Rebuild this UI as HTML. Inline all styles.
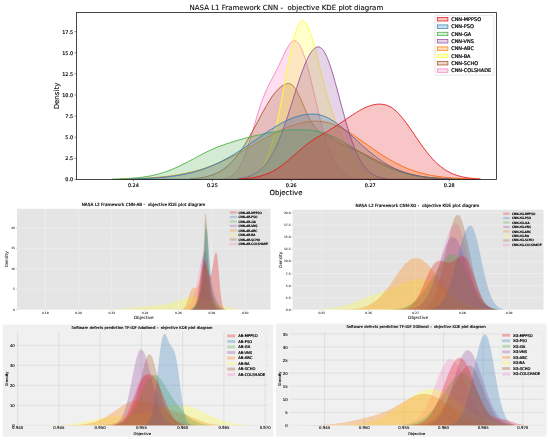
<!DOCTYPE html>
<html lang="en"><head><meta charset="utf-8"><title>KDE plot diagrams</title>
<style>html,body{margin:0;padding:0;background:#fff;}body{width:550px;height:441px;overflow:hidden;}svg{display:block;}</style>
</head><body>
<svg width="550" height="441" viewBox="0 0 550 441" font-family="'DejaVu Sans','Liberation Sans',sans-serif" text-rendering="geometricPrecision">
<clipPath id="c1"><rect x="76.4" y="12.6" width="420.0" height="166.8"/></clipPath>
<g clip-path="url(#c1)" stroke-linejoin="round">
<path d="M224.3,179.4 L224.3,178.6 225.1,178.4 225.9,178.2 226.7,178 227.4,177.8 228.2,177.5 229,177.2 229.8,176.9 230.6,176.5 231.4,176 232.1,175.5 232.9,174.9 233.7,174.3 234.5,173.6 235.3,172.8 236.1,171.9 236.8,171 237.6,169.9 238.4,168.8 239.2,167.6 240,166.2 240.8,164.8 241.5,163.2 242.3,161.6 243.1,159.8 243.9,157.9 244.7,156 245.5,153.9 246.2,151.7 247,149.5 247.8,147.1 248.6,144.7 249.4,142.2 250.2,139.7 250.9,137.1 251.7,134.4 252.5,131.7 253.3,129 254.1,126.3 254.9,123.6 255.6,121 256.4,118.3 257.2,115.7 258,113.1 258.8,110.6 259.6,108.1 260.3,105.8 261.1,103.5 261.9,101.2 262.7,99.1 263.5,97 264.3,95.1 265,93.2 265.8,91.3 266.6,89.6 267.4,87.9 268.2,86.3 269,84.7 269.7,83.1 270.5,81.6 271.3,80.1 272.1,78.7 272.9,77.2 273.7,75.7 274.4,74.3 275.2,72.8 276,71.2 276.8,69.7 277.6,68.1 278.4,66.5 279.1,64.9 279.9,63.2 280.7,61.5 281.5,59.8 282.3,58.1 283.1,56.5 283.8,54.8 284.6,53.1 285.4,51.5 286.2,50 287,48.5 287.8,47.1 288.5,45.8 289.3,44.6 290.1,43.5 290.9,42.6 291.7,41.9 292.5,41.3 293.2,40.9 294,40.7 294.8,40.7 295.6,40.9 296.4,41.3 297.2,42 297.9,42.8 298.7,43.8 299.5,44.9 300.3,46.3 301.1,47.8 301.9,49.5 302.6,51.4 303.4,53.5 304.2,55.7 305,58.1 305.8,60.6 306.6,63.3 307.3,66.1 308.1,69 308.9,72 309.7,75.1 310.5,78.2 311.3,81.5 312,84.8 312.8,88.1 313.6,91.5 314.4,94.9 315.2,98.3 316,101.6 316.7,105 317.5,108.4 318.3,111.7 319.1,114.9 319.9,118.2 320.7,121.3 321.4,124.4 322.2,127.4 323,130.3 323.8,133.2 324.6,135.9 325.4,138.6 326.1,141.2 326.9,143.6 327.7,146 328.5,148.2 329.3,150.4 330.1,152.4 330.8,154.4 331.6,156.2 332.4,158 333.2,159.6 334,161.2 334.7,162.6 335.5,164 336.3,165.3 337.1,166.5 337.9,167.6 338.7,168.7 339.4,169.6 340.2,170.5 341,171.3 341.8,172.1 342.6,172.8 343.4,173.4 344.1,174 344.9,174.6 345.7,175.1 346.5,175.5 347.3,175.9 348.1,176.3 348.8,176.6 349.6,176.9 350.4,177.2 351.2,177.4 352,177.7 352.8,177.9 353.5,178.1 354.3,178.2 355.1,178.4 355.9,178.5 356.7,178.6 356.7,179.4Z" fill="#f781bf" fill-opacity="0.25" stroke="#f781bf" stroke-width="0.9"/>
<path d="M190.1,179.4 L190.1,178.8 191.6,178.7 193.1,178.6 194.7,178.5 196.2,178.3 197.7,178.2 199.2,178 200.8,177.8 202.3,177.5 203.8,177.2 205.4,176.9 206.9,176.6 208.4,176.2 209.9,175.7 211.5,175.2 213,174.7 214.5,174.1 216.1,173.4 217.6,172.7 219.1,171.9 220.7,171 222.2,170 223.7,169 225.2,167.9 226.8,166.7 228.3,165.3 229.8,163.9 231.4,162.4 232.9,160.8 234.4,159.1 235.9,157.2 237.5,155.3 239,153.3 240.5,151.1 242.1,148.9 243.6,146.5 245.1,144.1 246.6,141.6 248.2,139 249.7,136.3 251.2,133.6 252.8,130.8 254.3,128 255.8,125.2 257.4,122.3 258.9,119.4 260.4,116.6 261.9,113.7 263.5,110.9 265,108.2 266.5,105.5 268.1,103 269.6,100.5 271.1,98.1 272.6,95.9 274.2,93.8 275.7,91.9 277.2,90.2 278.8,88.7 280.3,87.3 281.8,86.2 283.3,85.2 284.9,84.5 286.4,83.9 287.9,83.6 289.5,83.6 291,84.1 292.5,85.2 294.1,87 295.6,89.2 297.1,91.8 298.6,94.8 300.2,98.1 301.7,101.5 303.2,105.1 304.8,108.6 306.3,112.1 307.8,115.4 309.3,118.5 310.9,121.3 312.4,123.9 313.9,126.1 315.5,128 317,129.6 318.5,130.9 320,132 321.6,132.9 323.1,133.7 324.6,134.4 326.2,135.1 327.7,135.9 329.2,136.8 330.8,137.8 332.3,139 333.8,140 335.3,140.9 336.9,141.8 338.4,142.5 339.9,143.3 341.5,143.9 343,144.6 344.5,145.2 346,145.8 347.6,146.4 349.1,147 350.6,147.7 352.2,148.3 353.7,149 355.2,149.7 356.7,150.4 358.3,151.1 359.8,151.8 361.3,152.5 362.9,153.3 364.4,154.1 365.9,154.9 367.5,155.6 369,156.4 370.5,157.2 372,158 373.6,158.8 375.1,159.6 376.6,160.4 378.2,161.2 379.7,162 381.2,162.8 382.7,163.5 384.3,164.3 385.8,165 387.3,165.7 388.9,166.4 390.4,167.1 391.9,167.7 393.4,168.4 395,169 396.5,169.6 398,170.2 399.6,170.7 401.1,171.3 402.6,171.8 404.2,172.3 405.7,172.7 407.2,173.2 408.7,173.6 410.3,174 411.8,174.4 413.3,174.7 414.9,175.1 416.4,175.4 417.9,175.7 419.4,176 421,176.3 422.5,176.5 424,176.7 425.6,177 427.1,177.2 428.6,177.4 430.1,177.5 431.7,177.7 433.2,177.8 434.7,178 436.3,178.1 437.8,178.2 439.3,178.3 440.9,178.4 442.4,178.5 443.9,178.6 445.4,178.7 447,178.8 448.5,178.8 448.5,179.4Z" fill="#a65628" fill-opacity="0.25" stroke="#a65628" stroke-width="0.9"/>
<path d="M246,179.4 L246,178.5 246.7,178.3 247.5,178.2 248.3,178 249.1,177.8 249.8,177.6 250.6,177.3 251.4,177 252.2,176.7 252.9,176.3 253.7,175.9 254.5,175.5 255.3,175 256.1,174.4 256.8,173.8 257.6,173.1 258.4,172.4 259.2,171.6 259.9,170.7 260.7,169.7 261.5,168.6 262.3,167.4 263,166.2 263.8,164.8 264.6,163.3 265.4,161.8 266.2,160.1 266.9,158.2 267.7,156.3 268.5,154.2 269.3,152 270,149.6 270.8,147.1 271.6,144.5 272.4,141.8 273.2,138.9 273.9,135.8 274.7,132.7 275.5,129.3 276.3,125.9 277,122.4 277.8,118.7 278.6,114.9 279.4,111.1 280.1,107.1 280.9,103.1 281.7,99 282.5,94.8 283.3,90.6 284,86.4 284.8,82.2 285.6,78 286.4,73.8 287.1,69.6 287.9,65.5 288.7,61.5 289.5,57.6 290.2,53.8 291,50.2 291.8,46.6 292.6,43.3 293.4,40.1 294.1,37.2 294.9,34.4 295.7,31.9 296.5,29.6 297.2,27.5 298,25.8 298.8,24.2 299.6,23 300.3,22 301.1,21.3 301.9,20.9 302.7,20.7 303.5,20.9 304.2,21.3 305,21.9 305.8,22.8 306.6,24 307.3,25.4 308.1,27 308.9,28.8 309.7,30.8 310.4,33 311.2,35.4 312,37.9 312.8,40.5 313.6,43.3 314.3,46.1 315.1,49.1 315.9,52.1 316.7,55.1 317.4,58.2 318.2,61.3 319,64.5 319.8,67.6 320.5,70.7 321.3,73.8 322.1,76.9 322.9,79.9 323.7,82.9 324.4,85.8 325.2,88.7 326,91.5 326.8,94.3 327.5,97 328.3,99.6 329.1,102.2 329.9,104.7 330.6,107.1 331.4,109.5 332.2,111.8 333,114.1 333.8,116.3 334.5,118.5 335.3,120.6 336.1,122.7 336.9,124.7 337.6,126.7 338.4,128.7 339.2,130.6 340,132.5 340.8,134.3 341.5,136.2 342.3,137.9 343.1,139.7 343.9,141.5 344.6,143.2 345.4,144.8 346.2,146.5 347,148.1 347.7,149.7 348.5,151.2 349.3,152.7 350.1,154.2 350.9,155.6 351.6,157 352.4,158.3 353.2,159.6 354,160.9 354.7,162.1 355.5,163.3 356.3,164.4 357.1,165.4 357.8,166.5 358.6,167.4 359.4,168.3 360.2,169.2 361,170 361.7,170.8 362.5,171.5 363.3,172.2 364.1,172.9 364.8,173.4 365.6,174 366.4,174.5 367.2,175 367.9,175.4 368.7,175.8 369.5,176.2 370.3,176.5 371.1,176.8 371.8,177.1 372.6,177.4 373.4,177.6 374.2,177.8 374.9,178 375.7,178.2 376.5,178.3 377.3,178.4 377.3,179.4Z" fill="#ffff33" fill-opacity="0.25" stroke="#ffff33" stroke-width="0.9"/>
<path d="M119.5,179.4 L119.5,179.1 121.6,179 123.7,179 125.8,178.9 127.9,178.9 130,178.8 132.1,178.7 134.2,178.7 136.3,178.6 138.4,178.5 140.6,178.4 142.7,178.3 144.8,178.2 146.9,178.1 149,178 151.1,177.8 153.2,177.7 155.3,177.5 157.4,177.3 159.5,177.1 161.6,176.9 163.8,176.7 165.9,176.5 168,176.2 170.1,176 172.2,175.7 174.3,175.4 176.4,175 178.5,174.7 180.6,174.3 182.7,173.9 184.8,173.5 186.9,173 189.1,172.6 191.2,172.1 193.3,171.6 195.4,171 197.5,170.4 199.6,169.8 201.7,169.2 203.8,168.5 205.9,167.8 208,167.1 210.1,166.3 212.2,165.5 214.4,164.7 216.5,163.9 218.6,163 220.7,162.1 222.8,161.1 224.9,160.2 227,159.2 229.1,158.2 231.2,157.1 233.3,156 235.4,154.9 237.5,153.8 239.7,152.7 241.8,151.6 243.9,150.4 246,149.2 248.1,148 250.2,146.8 252.3,145.6 254.4,144.4 256.5,143.2 258.6,142 260.7,140.8 262.9,139.6 265,138.4 267.1,137.2 269.2,136.1 271.3,135 273.4,133.9 275.5,132.8 277.6,131.7 279.7,130.7 281.8,129.7 283.9,128.8 286,127.9 288.2,127 290.3,126.2 292.4,125.5 294.5,124.8 296.6,124.1 298.7,123.6 300.8,123 302.9,122.6 305,122.2 307.1,121.8 309.2,121.6 311.3,121.4 313.5,121.2 315.6,121.2 317.7,121.2 319.8,121.3 321.9,121.5 324,121.8 326.1,122.2 328.2,122.7 330.3,123.3 332.4,124.1 334.5,124.8 336.6,125.7 338.8,126.7 340.9,127.7 343,128.8 345.1,130 347.2,131.2 349.3,132.5 351.4,133.8 353.5,135.2 355.6,136.6 357.7,138.1 359.8,139.5 362,141 364.1,142.5 366.2,144 368.3,145.5 370.4,147 372.5,148.5 374.6,149.9 376.7,151.4 378.8,152.8 380.9,154.2 383,155.6 385.1,156.9 387.3,158.2 389.4,159.4 391.5,160.7 393.6,161.8 395.7,163 397.8,164.1 399.9,165.1 402,166.1 404.1,167 406.2,167.9 408.3,168.8 410.4,169.6 412.6,170.4 414.7,171.1 416.8,171.7 418.9,172.4 421,173 423.1,173.5 425.2,174 427.3,174.5 429.4,175 431.5,175.4 433.6,175.8 435.7,176.1 437.9,176.4 440,176.7 442.1,177 444.2,177.2 446.3,177.5 448.4,177.7 450.5,177.8 452.6,178 454.7,178.2 456.8,178.3 458.9,178.4 461.1,178.5 463.2,178.6 465.3,178.7 467.4,178.8 469.5,178.9 471.6,178.9 473.7,179 475.8,179.1 475.8,179.4Z" fill="#ff7f00" fill-opacity="0.25" stroke="#ff7f00" stroke-width="0.9"/>
<path d="M237.6,179.4 L237.6,178.6 238.4,178.5 239.3,178.4 240.2,178.3 241.1,178.2 242,178 242.8,177.9 243.7,177.7 244.6,177.5 245.5,177.3 246.4,177.1 247.3,176.9 248.1,176.6 249,176.3 249.9,176 250.8,175.7 251.7,175.3 252.6,175 253.4,174.5 254.3,174.1 255.2,173.6 256.1,173.1 257,172.5 257.9,171.9 258.7,171.2 259.6,170.5 260.5,169.8 261.4,169 262.3,168.2 263.1,167.3 264,166.3 264.9,165.3 265.8,164.2 266.7,163.1 267.6,161.9 268.4,160.6 269.3,159.3 270.2,157.9 271.1,156.4 272,154.9 272.9,153.3 273.7,151.6 274.6,149.8 275.5,148 276.4,146.1 277.3,144.1 278.2,142.1 279,140 279.9,137.8 280.8,135.6 281.7,133.3 282.6,130.9 283.5,128.4 284.3,126 285.2,123.4 286.1,120.8 287,118.2 287.9,115.5 288.7,112.8 289.6,110.1 290.5,107.3 291.4,104.5 292.3,101.7 293.2,98.9 294,96.1 294.9,93.3 295.8,90.5 296.7,87.7 297.6,85 298.5,82.3 299.3,79.7 300.2,77.1 301.1,74.5 302,72 302.9,69.7 303.8,67.3 304.6,65.1 305.5,63 306.4,61 307.3,59.1 308.2,57.3 309,55.6 309.9,54.1 310.8,52.7 311.7,51.4 312.6,50.3 313.5,49.4 314.3,48.6 315.2,47.9 316.1,47.4 317,47.1 317.9,46.9 318.8,46.9 319.6,47.1 320.5,47.6 321.4,48.2 322.3,49.1 323.2,50.2 324.1,51.5 324.9,53 325.8,54.7 326.7,56.6 327.6,58.7 328.5,60.9 329.4,63.3 330.2,65.9 331.1,68.6 332,71.4 332.9,74.3 333.8,77.3 334.6,80.4 335.5,83.5 336.4,86.7 337.3,90 338.2,93.3 339.1,96.6 339.9,100 340.8,103.3 341.7,106.6 342.6,109.9 343.5,113.1 344.4,116.3 345.2,119.5 346.1,122.6 347,125.6 347.9,128.6 348.8,131.4 349.7,134.2 350.5,136.9 351.4,139.5 352.3,142 353.2,144.5 354.1,146.8 354.9,149 355.8,151.1 356.7,153.1 357.6,155 358.5,156.8 359.4,158.5 360.2,160.1 361.1,161.7 362,163.1 362.9,164.4 363.8,165.7 364.7,166.8 365.5,167.9 366.4,168.9 367.3,169.9 368.2,170.8 369.1,171.6 370,172.3 370.8,173 371.7,173.6 372.6,174.2 373.5,174.7 374.4,175.2 375.3,175.6 376.1,176 377,176.4 377.9,176.7 378.8,177 379.7,177.3 380.5,177.5 381.4,177.7 382.3,177.9 383.2,178.1 384.1,178.3 385,178.4 385.8,178.5 386.7,178.6 386.7,179.4Z" fill="#984ea3" fill-opacity="0.25" stroke="#984ea3" stroke-width="0.9"/>
<path d="M112.1,179.4 L112.1,179.1 114.2,179.1 116.2,179 118.3,178.9 120.3,178.9 122.4,178.8 124.4,178.7 126.5,178.6 128.6,178.5 130.6,178.3 132.7,178.2 134.7,178 136.8,177.8 138.8,177.6 140.9,177.4 142.9,177.1 145,176.8 147.1,176.5 149.1,176.1 151.2,175.7 153.2,175.3 155.3,174.8 157.3,174.3 159.4,173.7 161.4,173.1 163.5,172.5 165.5,171.8 167.6,171.1 169.7,170.3 171.7,169.5 173.8,168.6 175.8,167.7 177.9,166.8 179.9,165.8 182,164.8 184,163.8 186.1,162.7 188.2,161.7 190.2,160.6 192.3,159.5 194.3,158.4 196.4,157.3 198.4,156.2 200.5,155.1 202.5,154 204.6,153 206.7,151.9 208.7,150.9 210.8,150 212.8,149.1 214.9,148.2 216.9,147.3 219,146.5 221,145.8 223.1,145.1 225.1,144.3 227.2,143.6 229.3,143 231.3,142.3 233.4,141.6 235.4,141 237.5,140.4 239.5,139.8 241.6,139.2 243.6,138.6 245.7,138.1 247.8,137.6 249.8,137 251.9,136.5 253.9,136 256,135.6 258,135.1 260.1,134.7 262.1,134.2 264.2,133.8 266.2,133.4 268.3,133 270.4,132.7 272.4,132.3 274.5,132 276.5,131.7 278.6,131.4 280.6,131.1 282.7,130.8 284.7,130.6 286.8,130.4 288.9,130.2 290.9,130.1 293,130 295,129.9 297.1,129.8 299.1,129.8 301.2,129.8 303.2,129.9 305.3,129.9 307.3,130.1 309.4,130.2 311.5,130.4 313.5,130.7 315.6,131 317.6,131.4 319.7,131.9 321.7,132.5 323.8,133.1 325.8,133.8 327.9,134.5 330,135.4 332,136.3 334.1,137.2 336.1,138.2 338.2,139.3 340.2,140.4 342.3,141.5 344.3,142.7 346.4,143.9 348.4,145.1 350.5,146.3 352.6,147.6 354.6,148.9 356.7,150.1 358.7,151.4 360.8,152.7 362.8,153.9 364.9,155.2 366.9,156.4 369,157.6 371.1,158.8 373.1,160 375.2,161.1 377.2,162.2 379.3,163.2 381.3,164.3 383.4,165.3 385.4,166.2 387.5,167.1 389.5,168 391.6,168.8 393.7,169.6 395.7,170.3 397.8,171.1 399.8,171.7 401.9,172.3 403.9,172.9 406,173.5 408,174 410.1,174.5 412.2,174.9 414.2,175.3 416.3,175.7 418.3,176.1 420.4,176.4 422.4,176.7 424.5,177 426.5,177.2 428.6,177.4 430.7,177.6 432.7,177.8 434.8,178 436.8,178.2 438.9,178.3 440.9,178.4 443,178.5 445,178.6 447.1,178.7 449.1,178.8 451.2,178.9 453.3,179 455.3,179 457.4,179.1 459.4,179.1 459.4,179.4Z" fill="#4daf4a" fill-opacity="0.25" stroke="#4daf4a" stroke-width="0.9"/>
<path d="M130.8,179.4 L130.8,179 132.7,179 134.6,178.9 136.5,178.9 138.4,178.8 140.3,178.7 142.2,178.7 144.1,178.6 146,178.5 147.9,178.4 149.8,178.3 151.7,178.2 153.6,178.1 155.5,178 157.4,177.8 159.3,177.7 161.2,177.5 163.1,177.4 165,177.2 166.9,177 168.8,176.7 170.7,176.5 172.6,176.3 174.5,176 176.4,175.7 178.3,175.4 180.2,175.1 182.1,174.7 184,174.4 185.9,174 187.8,173.6 189.7,173.1 191.6,172.7 193.5,172.2 195.4,171.6 197.3,171.1 199.2,170.5 201.1,169.9 203,169.3 204.9,168.6 206.8,167.9 208.7,167.2 210.6,166.4 212.4,165.6 214.3,164.8 216.2,163.9 218.1,163 220,162.1 221.9,161.1 223.8,160.1 225.7,159.1 227.6,158.1 229.5,157 231.4,155.9 233.3,154.8 235.2,153.6 237.1,152.4 239,151.2 240.9,150 242.8,148.7 244.7,147.4 246.6,146.2 248.5,144.9 250.4,143.6 252.3,142.2 254.2,140.9 256.1,139.6 258,138.3 259.9,137 261.8,135.6 263.7,134.3 265.6,133 267.5,131.8 269.4,130.5 271.3,129.3 273.2,128.1 275.1,126.9 277,125.8 278.9,124.7 280.8,123.6 282.7,122.6 284.6,121.6 286.5,120.7 288.4,119.8 290.3,119 292.2,118.2 294.1,117.5 296,116.8 297.9,116.3 299.8,115.7 301.7,115.3 303.6,114.9 305.5,114.6 307.4,114.4 309.3,114.2 311.2,114.1 313.1,114.1 315,114.2 316.9,114.4 318.8,114.7 320.7,115.2 322.6,115.7 324.5,116.4 326.4,117.2 328.3,118.1 330.1,119.1 332,120.3 333.9,121.4 335.8,122.7 337.7,124.1 339.6,125.5 341.5,127 343.4,128.6 345.3,130.2 347.2,131.8 349.1,133.5 351,135.2 352.9,136.9 354.8,138.6 356.7,140.3 358.6,142.1 360.5,143.8 362.4,145.5 364.3,147.2 366.2,148.8 368.1,150.5 370,152.1 371.9,153.6 373.8,155.1 375.7,156.6 377.6,158 379.5,159.4 381.4,160.7 383.3,162 385.2,163.2 387.1,164.4 389,165.5 390.9,166.5 392.8,167.5 394.7,168.4 396.6,169.3 398.5,170.1 400.4,170.9 402.3,171.6 404.2,172.3 406.1,172.9 408,173.5 409.9,174.1 411.8,174.6 413.7,175 415.6,175.5 417.5,175.8 419.4,176.2 421.3,176.5 423.2,176.8 425.1,177.1 427,177.4 428.9,177.6 430.8,177.8 432.7,178 434.6,178.1 436.5,178.3 438.4,178.4 440.3,178.5 442.2,178.6 444.1,178.7 446,178.8 447.9,178.9 449.7,179 451.6,179 451.6,179.4Z" fill="#377eb8" fill-opacity="0.25" stroke="#377eb8" stroke-width="0.9"/>
<path d="M239.7,179.4 L239.7,178.9 241.1,178.9 242.5,178.8 243.9,178.7 245.4,178.6 246.8,178.4 248.2,178.3 249.6,178.1 251,177.9 252.5,177.7 253.9,177.5 255.3,177.3 256.7,177 258.2,176.6 259.6,176.3 261,175.9 262.4,175.5 263.9,175 265.3,174.5 266.7,174 268.1,173.4 269.6,172.8 271,172.1 272.4,171.4 273.8,170.6 275.3,169.8 276.7,169 278.1,168 279.5,167.1 281,166.1 282.4,165.1 283.8,164 285.2,162.9 286.7,161.7 288.1,160.5 289.5,159.3 290.9,158.1 292.4,156.9 293.8,155.6 295.2,154.3 296.6,153.1 298.1,151.8 299.5,150.5 300.9,149.3 302.3,148.1 303.8,146.9 305.2,145.7 306.6,144.5 308,143.4 309.5,142.4 310.9,141.3 312.3,140.3 313.7,139.4 315.2,138.5 316.6,137.6 318,136.8 319.4,136 320.9,135.2 322.3,134.4 323.7,133.5 325.1,132.7 326.6,131.8 328,131 329.4,130.1 330.8,129.2 332.3,128.3 333.7,127.4 335.1,126.5 336.5,125.6 338,124.7 339.4,123.7 340.8,122.8 342.2,121.8 343.7,120.9 345.1,119.9 346.5,118.9 347.9,118 349.4,117 350.8,116.1 352.2,115.1 353.6,114.2 355.1,113.3 356.5,112.4 357.9,111.6 359.3,110.7 360.8,109.9 362.2,109.1 363.6,108.4 365,107.7 366.5,107.1 367.9,106.5 369.3,106 370.7,105.5 372.2,105.1 373.6,104.8 375,104.5 376.4,104.3 377.9,104.2 379.3,104.1 380.7,104.2 382.1,104.3 383.5,104.5 385,104.8 386.4,105.2 387.8,105.7 389.2,106.3 390.7,107 392.1,107.9 393.5,109 394.9,110.1 396.4,111.4 397.8,112.8 399.2,114.3 400.6,115.9 402.1,117.6 403.5,119.3 404.9,121.2 406.3,123.1 407.8,125.1 409.2,127.1 410.6,129.1 412,131.2 413.5,133.3 414.9,135.4 416.3,137.5 417.7,139.6 419.2,141.6 420.6,143.7 422,145.7 423.4,147.6 424.9,149.6 426.3,151.4 427.7,153.2 429.1,155 430.6,156.7 432,158.3 433.4,159.8 434.8,161.3 436.3,162.7 437.7,164 439.1,165.3 440.5,166.4 442,167.6 443.4,168.6 444.8,169.6 446.2,170.5 447.7,171.3 449.1,172.1 450.5,172.8 451.9,173.5 453.4,174.1 454.8,174.6 456.2,175.1 457.6,175.6 459.1,176 460.5,176.4 461.9,176.7 463.3,177.1 464.8,177.3 466.2,177.6 467.6,177.8 469,178 470.5,178.2 471.9,178.3 473.3,178.5 474.7,178.6 476.2,178.7 477.6,178.8 479,178.9 480.4,179 480.4,179.4Z" fill="#e41a1c" fill-opacity="0.25" stroke="#e41a1c" stroke-width="0.9"/>
</g>
<rect x="76.4" y="12.6" width="420.0" height="166.8" fill="none" stroke="#1a1a1a" stroke-width="0.8"/>
<line x1="133.40" y1="179.4" x2="133.40" y2="181.4" stroke="#222" stroke-width="0.5"/>
<text x="133.40" y="186.50" font-size="4.9" text-anchor="middle" fill="#000" stroke="#000" stroke-width="0.15">0.24</text>
<line x1="212.35" y1="179.4" x2="212.35" y2="181.4" stroke="#222" stroke-width="0.5"/>
<text x="212.35" y="186.50" font-size="4.9" text-anchor="middle" fill="#000" stroke="#000" stroke-width="0.15">0.25</text>
<line x1="291.30" y1="179.4" x2="291.30" y2="181.4" stroke="#222" stroke-width="0.5"/>
<text x="291.30" y="186.50" font-size="4.9" text-anchor="middle" fill="#000" stroke="#000" stroke-width="0.15">0.26</text>
<line x1="370.25" y1="179.4" x2="370.25" y2="181.4" stroke="#222" stroke-width="0.5"/>
<text x="370.25" y="186.50" font-size="4.9" text-anchor="middle" fill="#000" stroke="#000" stroke-width="0.15">0.27</text>
<line x1="449.20" y1="179.4" x2="449.20" y2="181.4" stroke="#222" stroke-width="0.5"/>
<text x="449.20" y="186.50" font-size="4.9" text-anchor="middle" fill="#000" stroke="#000" stroke-width="0.15">0.28</text>
<line x1="74.4" y1="179.40" x2="76.4" y2="179.40" stroke="#222" stroke-width="0.5"/>
<text x="73.10" y="181.20" font-size="4.9" text-anchor="end" fill="#000" stroke="#000" stroke-width="0.15">0.0</text>
<line x1="74.4" y1="158.30" x2="76.4" y2="158.30" stroke="#222" stroke-width="0.5"/>
<text x="73.10" y="160.10" font-size="4.9" text-anchor="end" fill="#000" stroke="#000" stroke-width="0.15">2.5</text>
<line x1="74.4" y1="137.20" x2="76.4" y2="137.20" stroke="#222" stroke-width="0.5"/>
<text x="73.10" y="139.00" font-size="4.9" text-anchor="end" fill="#000" stroke="#000" stroke-width="0.15">5.0</text>
<line x1="74.4" y1="116.10" x2="76.4" y2="116.10" stroke="#222" stroke-width="0.5"/>
<text x="73.10" y="117.90" font-size="4.9" text-anchor="end" fill="#000" stroke="#000" stroke-width="0.15">7.5</text>
<line x1="74.4" y1="95.00" x2="76.4" y2="95.00" stroke="#222" stroke-width="0.5"/>
<text x="73.10" y="96.80" font-size="4.9" text-anchor="end" fill="#000" stroke="#000" stroke-width="0.15">10.0</text>
<line x1="74.4" y1="73.90" x2="76.4" y2="73.90" stroke="#222" stroke-width="0.5"/>
<text x="73.10" y="75.70" font-size="4.9" text-anchor="end" fill="#000" stroke="#000" stroke-width="0.15">12.5</text>
<line x1="74.4" y1="52.80" x2="76.4" y2="52.80" stroke="#222" stroke-width="0.5"/>
<text x="73.10" y="54.60" font-size="4.9" text-anchor="end" fill="#000" stroke="#000" stroke-width="0.15">15.0</text>
<line x1="74.4" y1="31.70" x2="76.4" y2="31.70" stroke="#222" stroke-width="0.5"/>
<text x="73.10" y="33.50" font-size="4.9" text-anchor="end" fill="#000" stroke="#000" stroke-width="0.15">17.5</text>
<text x="286.40" y="9.50" font-size="7.03" text-anchor="middle" fill="#000" stroke="#000" stroke-width="0.08" xml:space="preserve" style="white-space:pre">NASA L1 Framework CNN -  objective KDE plot diagram</text>
<text x="286.00" y="195.40" font-size="6.95" text-anchor="middle" fill="#000" stroke="#000" stroke-width="0.1">Objective</text>
<text x="58.70" y="96.00" font-size="7.0" text-anchor="middle" fill="#000" stroke="#000" stroke-width="0.1" transform="rotate(-90 58.70 96.00)">Density</text>
<rect x="435" y="15.4" width="59" height="59.7" rx="0.8" fill="#fff" fill-opacity="0.8" stroke="#ccc" stroke-width="0.5"/>
<rect x="437.3" y="17.60" width="10.6" height="3.4" fill="#e41a1c" fill-opacity="0.25" stroke="#e41a1c" stroke-width="0.75"/>
<text x="451.20" y="21.10" font-size="4.97" text-anchor="start" fill="#000" stroke="#000" stroke-width="0.22">CNN-MPPSO</text>
<rect x="437.3" y="24.93" width="10.6" height="3.4" fill="#377eb8" fill-opacity="0.25" stroke="#377eb8" stroke-width="0.75"/>
<text x="451.20" y="28.43" font-size="4.97" text-anchor="start" fill="#000" stroke="#000" stroke-width="0.22">CNN-PSO</text>
<rect x="437.3" y="32.26" width="10.6" height="3.4" fill="#4daf4a" fill-opacity="0.25" stroke="#4daf4a" stroke-width="0.75"/>
<text x="451.20" y="35.76" font-size="4.97" text-anchor="start" fill="#000" stroke="#000" stroke-width="0.22">CNN-GA</text>
<rect x="437.3" y="39.59" width="10.6" height="3.4" fill="#984ea3" fill-opacity="0.25" stroke="#984ea3" stroke-width="0.75"/>
<text x="451.20" y="43.09" font-size="4.97" text-anchor="start" fill="#000" stroke="#000" stroke-width="0.22">CNN-VNS</text>
<rect x="437.3" y="46.92" width="10.6" height="3.4" fill="#ff7f00" fill-opacity="0.25" stroke="#ff7f00" stroke-width="0.75"/>
<text x="451.20" y="50.42" font-size="4.97" text-anchor="start" fill="#000" stroke="#000" stroke-width="0.22">CNN-ABC</text>
<rect x="437.3" y="54.25" width="10.6" height="3.4" fill="#ffff33" fill-opacity="0.25" stroke="#ffff33" stroke-width="0.75"/>
<text x="451.20" y="57.75" font-size="4.97" text-anchor="start" fill="#000" stroke="#000" stroke-width="0.22">CNN-BA</text>
<rect x="437.3" y="61.58" width="10.6" height="3.4" fill="#a65628" fill-opacity="0.25" stroke="#a65628" stroke-width="0.75"/>
<text x="451.20" y="65.08" font-size="4.97" text-anchor="start" fill="#000" stroke="#000" stroke-width="0.22">CNN-SCHO</text>
<rect x="437.3" y="68.91" width="10.6" height="3.4" fill="#f781bf" fill-opacity="0.25" stroke="#f781bf" stroke-width="0.75"/>
<text x="451.20" y="72.41" font-size="4.97" text-anchor="start" fill="#000" stroke="#000" stroke-width="0.22">CNN-COLSHADE</text>
<rect x="17.0" y="208.8" width="253.5" height="101.0" fill="#e5e5e5"/>
<line x1="45.30" y1="208.8" x2="45.30" y2="309.8" stroke="#fff" stroke-opacity="0.85" stroke-width="0.35"/>
<line x1="78.58" y1="208.8" x2="78.58" y2="309.8" stroke="#fff" stroke-opacity="0.85" stroke-width="0.35"/>
<line x1="111.87" y1="208.8" x2="111.87" y2="309.8" stroke="#fff" stroke-opacity="0.85" stroke-width="0.35"/>
<line x1="145.15" y1="208.8" x2="145.15" y2="309.8" stroke="#fff" stroke-opacity="0.85" stroke-width="0.35"/>
<line x1="178.43" y1="208.8" x2="178.43" y2="309.8" stroke="#fff" stroke-opacity="0.85" stroke-width="0.35"/>
<line x1="211.72" y1="208.8" x2="211.72" y2="309.8" stroke="#fff" stroke-opacity="0.85" stroke-width="0.35"/>
<line x1="245.00" y1="208.8" x2="245.00" y2="309.8" stroke="#fff" stroke-opacity="0.85" stroke-width="0.35"/>
<line x1="17.0" y1="309.80" x2="270.5" y2="309.80" stroke="#fff" stroke-opacity="0.85" stroke-width="0.35"/>
<line x1="17.0" y1="289.27" x2="270.5" y2="289.27" stroke="#fff" stroke-opacity="0.85" stroke-width="0.35"/>
<line x1="17.0" y1="268.75" x2="270.5" y2="268.75" stroke="#fff" stroke-opacity="0.85" stroke-width="0.35"/>
<line x1="17.0" y1="248.22" x2="270.5" y2="248.22" stroke="#fff" stroke-opacity="0.85" stroke-width="0.35"/>
<line x1="17.0" y1="227.70" x2="270.5" y2="227.70" stroke="#fff" stroke-opacity="0.85" stroke-width="0.35"/>
<clipPath id="c2"><rect x="17.0" y="208.8" width="253.5" height="101.0"/></clipPath>
<g clip-path="url(#c2)">
<path d="M183.3,309.8 L183.3,309.5 183.5,309.4 183.7,309.4 184,309.3 184.2,309.3 184.5,309.2 184.7,309.1 185,309 185.2,309 185.4,308.8 185.7,308.7 185.9,308.6 186.2,308.5 186.4,308.3 186.6,308.2 186.9,308 187.1,307.8 187.4,307.6 187.6,307.4 187.9,307.1 188.1,306.9 188.3,306.6 188.6,306.3 188.8,306 189.1,305.7 189.3,305.4 189.6,305 189.8,304.6 190,304.2 190.3,303.8 190.5,303.4 190.8,302.9 191,302.5 191.3,302 191.5,301.5 191.7,300.9 192,300.4 192.2,299.8 192.5,299.2 192.7,298.6 193,297.9 193.2,297.2 193.4,296.5 193.7,295.8 193.9,295.1 194.2,294.3 194.4,293.5 194.7,292.6 194.9,291.8 195.1,290.8 195.4,289.9 195.6,288.9 195.9,287.9 196.1,286.9 196.4,285.8 196.6,284.6 196.8,283.4 197.1,282.2 197.3,281 197.6,279.7 197.8,278.4 198.1,277.1 198.3,275.7 198.5,274.3 198.8,273 199,271.6 199.3,270.2 199.5,268.8 199.8,267.4 200,266.1 200.2,264.8 200.5,263.6 200.7,262.4 201,261.3 201.2,260.3 201.5,259.4 201.7,258.5 201.9,257.8 202.2,257.2 202.4,256.8 202.7,256.4 202.9,256.2 203.2,256.2 203.4,256.3 203.6,256.6 203.9,257 204.1,257.5 204.4,258.2 204.6,259 204.9,260 205.1,261.1 205.3,262.3 205.6,263.7 205.8,265.1 206.1,266.6 206.3,268.2 206.5,269.9 206.8,271.6 207,273.4 207.3,275.2 207.5,277 207.8,278.8 208,280.7 208.2,282.5 208.5,284.2 208.7,286 209,287.7 209.2,289.3 209.5,290.9 209.7,292.4 209.9,293.8 210.2,295.2 210.4,296.5 210.7,297.7 210.9,298.9 211.2,300 211.4,301 211.6,301.9 211.9,302.7 212.1,303.5 212.4,304.2 212.6,304.9 212.9,305.5 213.1,306 213.3,306.5 213.6,306.9 213.8,307.3 214.1,307.6 214.3,307.9 214.6,308.2 214.8,308.4 215,308.6 215.3,308.8 215.5,308.9 215.8,309.1 216,309.2 216.3,309.3 216.5,309.4 216.7,309.4 217,309.5 217,309.8Z" fill="#f781bf" fill-opacity="0.3"/>
<path d="M190.6,309.8 L190.6,309.2 190.8,309.2 191,309.1 191.3,309 191.5,308.9 191.7,308.8 191.9,308.7 192.1,308.6 192.4,308.4 192.6,308.3 192.8,308.1 193,308 193.2,307.8 193.5,307.6 193.7,307.4 193.9,307.1 194.1,306.9 194.3,306.6 194.5,306.3 194.8,306 195,305.7 195.2,305.3 195.4,305 195.6,304.6 195.9,304.2 196.1,303.7 196.3,303.3 196.5,302.8 196.7,302.3 197,301.8 197.2,301.2 197.4,300.7 197.6,300.1 197.8,299.5 198.1,298.9 198.3,298.2 198.5,297.5 198.7,296.9 198.9,296.2 199.1,295.4 199.4,294.7 199.6,293.9 199.8,293.1 200,292.3 200.2,291.4 200.5,290.5 200.7,289.5 200.9,288.3 201.1,287 201.3,285.5 201.6,283.8 201.8,281.8 202,279.4 202.2,276.7 202.4,273.5 202.7,269.8 202.9,265.7 203.1,261 203.3,256 203.5,250.6 203.7,245 204,239.3 204.2,233.7 204.4,228.4 204.6,223.6 204.8,219.6 205.1,216.4 205.3,214.3 205.5,213.4 205.7,213.6 205.9,214.8 206.2,216.9 206.4,219.9 206.6,223.7 206.8,228 207,232.8 207.2,237.9 207.5,243.1 207.7,248.3 207.9,253.4 208.1,258.2 208.3,262.8 208.6,266.9 208.8,270.7 209,274.1 209.2,277.1 209.4,279.7 209.7,282 209.9,283.9 210.1,285.7 210.3,287.2 210.5,288.5 210.8,289.7 211,290.8 211.2,291.7 211.4,292.6 211.6,293.5 211.8,294.3 212.1,295 212.3,295.8 212.5,296.5 212.7,297.1 212.9,297.8 213.2,298.4 213.4,299.1 213.6,299.7 213.8,300.3 214,300.8 214.3,301.4 214.5,301.9 214.7,302.4 214.9,302.9 215.1,303.3 215.3,303.8 215.6,304.2 215.8,304.6 216,305 216.2,305.3 216.4,305.7 216.7,306 216.9,306.3 217.1,306.6 217.3,306.8 217.5,307.1 217.8,307.3 218,307.5 218.2,307.7 218.4,307.9 218.6,308.1 218.9,308.2 219.1,308.4 219.3,308.5 219.5,308.6 219.7,308.7 219.9,308.8 220.2,308.9 220.4,309 220.6,309.1 220.8,309.2 221,309.2 221,309.8Z" fill="#a65628" fill-opacity="0.3"/>
<path d="M92.6,309.8 L92.6,309.7 93.7,309.7 94.9,309.7 96,309.7 97.2,309.7 98.3,309.7 99.5,309.6 100.6,309.6 101.8,309.6 102.9,309.6 104.1,309.5 105.2,309.5 106.4,309.5 107.5,309.4 108.7,309.4 109.8,309.3 111,309.3 112.1,309.2 113.3,309.2 114.4,309.1 115.6,309.1 116.7,309 117.9,308.9 119,308.9 120.2,308.8 121.3,308.7 122.5,308.6 123.6,308.5 124.8,308.4 125.9,308.3 127.1,308.3 128.2,308.2 129.4,308 130.5,307.9 131.7,307.8 132.8,307.7 134,307.6 135.1,307.5 136.3,307.4 137.4,307.3 138.6,307.2 139.7,307.1 140.9,307 142,306.9 143.2,306.7 144.3,306.6 145.5,306.5 146.6,306.4 147.8,306.3 148.9,306.2 150.1,306.1 151.2,306 152.4,305.9 153.5,305.8 154.7,305.6 155.8,305.5 157,305.4 158.1,305.2 159.3,305.1 160.4,304.9 161.6,304.8 162.7,304.6 163.9,304.4 165,304.2 166.2,303.9 167.3,303.7 168.4,303.4 169.6,303.1 170.7,302.8 171.9,302.5 173,302.2 174.2,301.8 175.3,301.4 176.5,301.1 177.6,300.7 178.8,300.3 179.9,299.9 181.1,299.5 182.2,299.1 183.4,298.8 184.5,298.4 185.7,298.1 186.8,297.8 188,297.5 189.1,297.3 190.3,297.1 191.4,296.9 192.6,296.8 193.7,296.7 194.9,296.6 196,296.7 197.2,296.7 198.3,296.8 199.5,297 200.6,297.2 201.8,297.4 202.9,297.7 204.1,298.1 205.2,298.5 206.4,298.9 207.5,299.3 208.7,299.8 209.8,300.2 211,300.7 212.1,301.2 213.3,301.7 214.4,302.3 215.6,302.8 216.7,303.3 217.9,303.8 219,304.2 220.2,304.7 221.3,305.1 222.5,305.6 223.6,306 224.8,306.4 225.9,306.7 227.1,307 228.2,307.3 229.4,307.6 230.5,307.9 231.7,308.1 232.8,308.3 234,308.5 235.1,308.7 236.3,308.8 237.4,309 238.6,309.1 239.7,309.2 240.9,309.3 242,309.4 243.2,309.4 244.3,309.5 245.5,309.5 246.6,309.6 247.8,309.6 248.9,309.7 250.1,309.7 251.2,309.7 252.4,309.7 252.4,309.8Z" fill="#ffff33" fill-opacity="0.3"/>
<path d="M181,309.8 L181,309.5 181.2,309.5 181.5,309.4 181.8,309.3 182.1,309.2 182.3,309.1 182.6,308.9 182.9,308.8 183.2,308.6 183.4,308.4 183.7,308.2 184,307.9 184.3,307.6 184.5,307.2 184.8,306.8 185.1,306.4 185.3,306 185.6,305.4 185.9,304.9 186.2,304.3 186.4,303.6 186.7,303 187,302.2 187.3,301.5 187.5,300.7 187.8,299.8 188.1,299 188.4,298.1 188.6,297.2 188.9,296.3 189.2,295.4 189.5,294.6 189.7,293.7 190,292.9 190.3,292.1 190.5,291.4 190.8,290.7 191.1,290 191.4,289.5 191.6,289 191.9,288.6 192.2,288.3 192.5,288 192.7,287.9 193,287.8 193.3,287.7 193.6,287.7 193.8,287.7 194.1,287.8 194.4,287.8 194.7,287.9 194.9,287.9 195.2,288 195.5,288 195.7,288 196,288 196.3,287.9 196.6,287.8 196.8,287.6 197.1,287.3 197.4,286.9 197.7,286.5 197.9,286 198.2,285.3 198.5,284.6 198.8,283.7 199,282.8 199.3,281.8 199.6,280.7 199.9,279.5 200.1,278.3 200.4,277 200.7,275.6 200.9,274.3 201.2,272.9 201.5,271.6 201.8,270.3 202,269 202.3,267.8 202.6,266.8 202.9,265.8 203.1,265 203.4,264.3 203.7,263.8 204,263.4 204.2,263.3 204.5,263.3 204.8,263.5 205.1,263.9 205.3,264.4 205.6,265.1 205.9,265.9 206.1,266.8 206.4,267.9 206.7,269 207,270.3 207.2,271.7 207.5,273.2 207.8,274.7 208.1,276.3 208.3,277.9 208.6,279.6 208.9,281.3 209.2,283 209.4,284.6 209.7,286.3 210,287.9 210.3,289.5 210.5,291.1 210.8,292.6 211.1,294 211.4,295.4 211.6,296.7 211.9,297.9 212.2,299 212.4,300.1 212.7,301.1 213,302 213.3,302.9 213.5,303.7 213.8,304.4 214.1,305 214.4,305.6 214.6,306.1 214.9,306.6 215.2,307 215.5,307.4 215.7,307.7 216,308 216.3,308.3 216.6,308.5 216.8,308.7 217.1,308.9 217.4,309 217.6,309.1 217.9,309.3 218.2,309.3 218.5,309.4 218.7,309.5 219,309.5 219,309.8Z" fill="#ff7f00" fill-opacity="0.3"/>
<path d="M190.5,309.8 L190.5,309.5 190.7,309.4 190.9,309.3 191.1,309.3 191.3,309.2 191.5,309.1 191.7,309 191.9,308.9 192.1,308.8 192.3,308.6 192.5,308.5 192.7,308.3 192.9,308.1 193.1,307.9 193.3,307.7 193.5,307.4 193.7,307.2 193.9,306.9 194.1,306.5 194.3,306.1 194.5,305.7 194.7,305.3 194.9,304.8 195.1,304.3 195.3,303.8 195.5,303.2 195.7,302.5 195.9,301.9 196.1,301.1 196.3,300.3 196.5,299.5 196.7,298.6 196.9,297.7 197.1,296.7 197.3,295.7 197.5,294.6 197.7,293.4 197.9,292.2 198.1,291 198.3,289.7 198.5,288.4 198.7,287 198.9,285.5 199.1,284.1 199.3,282.6 199.5,281.1 199.7,279.5 199.9,277.9 200.1,276.3 200.3,274.7 200.5,273.1 200.7,271.5 200.9,269.9 201.1,268.4 201.3,266.8 201.5,265.3 201.7,263.8 201.9,262.3 202.1,260.9 202.3,259.6 202.5,258.3 202.7,257.1 202.9,256 203.1,255 203.3,254 203.5,253.2 203.7,252.5 203.9,251.8 204.1,251.3 204.3,250.9 204.5,250.5 204.7,250.4 204.9,250.3 205.1,250.3 205.3,250.5 205.5,250.8 205.7,251.3 205.9,251.9 206.1,252.6 206.3,253.4 206.5,254.4 206.7,255.4 206.9,256.6 207.1,257.9 207.3,259.2 207.5,260.6 207.7,262.1 207.9,263.7 208.1,265.3 208.3,266.9 208.5,268.6 208.7,270.3 208.9,272 209.1,273.8 209.3,275.5 209.5,277.2 209.7,278.9 209.9,280.6 210.1,282.3 210.3,283.9 210.5,285.5 210.7,287 210.9,288.5 211.1,290 211.3,291.3 211.5,292.7 211.7,293.9 211.9,295.1 212.1,296.3 212.3,297.4 212.5,298.4 212.7,299.4 212.9,300.3 213.1,301.1 213.3,301.9 213.5,302.6 213.7,303.3 213.9,304 214.1,304.5 214.3,305.1 214.5,305.6 214.7,306 214.9,306.4 215.1,306.8 215.3,307.1 215.5,307.4 215.7,307.7 215.9,307.9 216.1,308.2 216.3,308.4 216.5,308.5 216.7,308.7 216.9,308.8 217.1,309 217.3,309.1 217.5,309.2 217.7,309.3 217.9,309.3 218.1,309.4 218.3,309.5 218.3,309.8Z" fill="#984ea3" fill-opacity="0.3"/>
<path d="M190.2,309.8 L190.2,309.3 190.5,309.2 190.7,309.2 190.9,309.1 191.2,309 191.4,308.9 191.6,308.8 191.9,308.7 192.1,308.6 192.3,308.5 192.6,308.3 192.8,308.2 193,308 193.3,307.8 193.5,307.6 193.7,307.4 193.9,307.2 194.2,306.9 194.4,306.7 194.6,306.4 194.9,306.1 195.1,305.7 195.3,305.4 195.6,305 195.8,304.7 196,304.2 196.3,303.8 196.5,303.4 196.7,302.9 197,302.4 197.2,301.9 197.4,301.3 197.7,300.8 197.9,300.2 198.1,299.6 198.4,298.9 198.6,298.3 198.8,297.6 199.1,296.9 199.3,296.1 199.5,295.3 199.8,294.5 200,293.6 200.2,292.6 200.5,291.6 200.7,290.4 200.9,289.1 201.2,287.7 201.4,286 201.6,284.2 201.9,282.1 202.1,279.7 202.3,277 202.6,273.9 202.8,270.6 203,266.9 203.3,263 203.5,258.8 203.7,254.4 204,249.9 204.2,245.4 204.4,241 204.7,236.8 204.9,232.9 205.1,229.6 205.3,226.8 205.6,224.7 205.8,223.4 206,222.8 206.3,223.1 206.5,224 206.7,225.7 207,227.9 207.2,230.7 207.4,233.9 207.7,237.5 207.9,241.4 208.1,245.5 208.4,249.6 208.6,253.7 208.8,257.7 209.1,261.6 209.3,265.3 209.5,268.7 209.8,271.9 210,274.8 210.2,277.4 210.5,279.8 210.7,281.9 210.9,283.8 211.2,285.5 211.4,287.1 211.6,288.5 211.9,289.7 212.1,290.8 212.3,291.9 212.6,292.9 212.8,293.8 213,294.6 213.3,295.4 213.5,296.2 213.7,296.9 214,297.6 214.2,298.3 214.4,299 214.7,299.6 214.9,300.2 215.1,300.8 215.4,301.4 215.6,301.9 215.8,302.4 216.1,302.9 216.3,303.4 216.5,303.8 216.7,304.3 217,304.7 217.2,305.1 217.4,305.4 217.7,305.8 217.9,306.1 218.1,306.4 218.4,306.7 218.6,306.9 218.8,307.2 219.1,307.4 219.3,307.6 219.5,307.8 219.8,308 220,308.2 220.2,308.3 220.5,308.5 220.7,308.6 220.9,308.7 221.2,308.8 221.4,308.9 221.6,309 221.9,309.1 222.1,309.2 222.3,309.2 222.6,309.3 222.6,309.8Z" fill="#4daf4a" fill-opacity="0.3"/>
<path d="M190.6,309.8 L190.6,309.3 190.9,309.3 191.1,309.2 191.3,309.1 191.6,309 191.8,308.9 192.1,308.8 192.3,308.7 192.6,308.6 192.8,308.4 193.1,308.3 193.3,308.1 193.6,307.9 193.8,307.7 194.1,307.5 194.3,307.3 194.6,307 194.8,306.7 195.1,306.4 195.3,306.1 195.6,305.7 195.8,305.4 196,305 196.3,304.6 196.5,304.1 196.8,303.6 197,303.1 197.3,302.6 197.5,302 197.8,301.4 198,300.8 198.3,300.2 198.5,299.5 198.8,298.8 199,298 199.3,297.2 199.5,296.3 199.8,295.4 200,294.5 200.2,293.4 200.5,292.2 200.7,291 201,289.6 201.2,288 201.5,286.3 201.7,284.4 202,282.2 202.2,279.8 202.5,277.2 202.7,274.2 203,271 203.2,267.6 203.5,263.9 203.7,260 204,256.1 204.2,252 204.5,248 204.7,244.1 204.9,240.5 205.2,237.2 205.4,234.3 205.7,232 205.9,230.2 206.2,229.1 206.4,228.7 206.7,229 206.9,229.8 207.2,231.2 207.4,233.2 207.7,235.5 207.9,238.3 208.2,241.4 208.4,244.7 208.7,248.1 208.9,251.6 209.2,255.1 209.4,258.6 209.6,261.9 209.9,265.1 210.1,268 210.4,270.8 210.6,273.4 210.9,275.7 211.1,277.8 211.4,279.8 211.6,281.5 211.9,283.1 212.1,284.6 212.4,285.9 212.6,287.1 212.9,288.2 213.1,289.3 213.4,290.3 213.6,291.2 213.8,292.1 214.1,292.9 214.3,293.8 214.6,294.5 214.8,295.3 215.1,296.1 215.3,296.8 215.6,297.5 215.8,298.2 216.1,298.8 216.3,299.5 216.6,300.1 216.8,300.7 217.1,301.2 217.3,301.8 217.6,302.3 217.8,302.8 218.1,303.3 218.3,303.8 218.5,304.2 218.8,304.6 219,305 219.3,305.3 219.5,305.7 219.8,306 220,306.3 220.3,306.6 220.5,306.9 220.8,307.1 221,307.4 221.3,307.6 221.5,307.8 221.8,307.9 222,308.1 222.3,308.3 222.5,308.4 222.7,308.6 223,308.7 223.2,308.8 223.5,308.9 223.7,309 224,309.1 224.2,309.1 224.5,309.2 224.7,309.3 225,309.3 225,309.8Z" fill="#377eb8" fill-opacity="0.3"/>
<path d="M192.6,309.8 L192.6,309.5 192.9,309.4 193.1,309.3 193.3,309.2 193.6,309.1 193.8,308.9 194,308.8 194.3,308.6 194.5,308.3 194.8,308.1 195,307.8 195.2,307.4 195.5,307 195.7,306.5 195.9,306 196.2,305.4 196.4,304.8 196.6,304.1 196.9,303.2 197.1,302.4 197.3,301.4 197.6,300.3 197.8,299.2 198.1,297.9 198.3,296.6 198.5,295.2 198.8,293.7 199,292.1 199.2,290.4 199.5,288.7 199.7,286.9 199.9,285 200.2,283.1 200.4,281.2 200.6,279.3 200.9,277.4 201.1,275.5 201.3,273.6 201.6,271.8 201.8,270.1 202.1,268.5 202.3,266.9 202.5,265.5 202.8,264.2 203,263.1 203.2,262.2 203.5,261.4 203.7,260.8 203.9,260.4 204.2,260.1 204.4,260.1 204.6,260.2 204.9,260.4 205.1,260.8 205.3,261.3 205.6,261.9 205.8,262.6 206.1,263.4 206.3,264.3 206.5,265.2 206.8,266.2 207,267.2 207.2,268.2 207.5,269.2 207.7,270.2 207.9,271.2 208.2,272.1 208.4,273 208.6,273.7 208.9,274.4 209.1,274.9 209.3,275.3 209.6,275.6 209.8,275.8 210.1,275.8 210.3,275.6 210.5,275.3 210.8,274.9 211,274.3 211.2,273.5 211.5,272.7 211.7,271.7 211.9,270.6 212.2,269.4 212.4,268.1 212.6,266.7 212.9,265.3 213.1,263.9 213.4,262.5 213.6,261.1 213.8,259.7 214.1,258.4 214.3,257.2 214.5,256.1 214.8,255.1 215,254.2 215.2,253.5 215.5,252.9 215.7,252.5 215.9,252.4 216.2,252.4 216.4,252.6 216.6,253.2 216.9,254.2 217.1,255.6 217.4,257.2 217.6,259.2 217.8,261.4 218.1,263.8 218.3,266.4 218.5,269.2 218.8,272 219,274.9 219.2,277.7 219.5,280.6 219.7,283.3 219.9,286 220.2,288.6 220.4,291 220.6,293.2 220.9,295.3 221.1,297.2 221.4,298.9 221.6,300.5 221.8,301.9 222.1,303.1 222.3,304.2 222.5,305.1 222.8,305.9 223,306.6 223.2,307.2 223.5,307.7 223.7,308.1 223.9,308.4 224.2,308.7 224.4,309 224.6,309.1 224.9,309.3 225.1,309.4 225.4,309.5 225.4,309.8Z" fill="#e41a1c" fill-opacity="0.3"/>
</g>
<line x1="45.30" y1="309.8" x2="45.30" y2="310.8" stroke="#555" stroke-width="0.3"/>
<text x="45.30" y="314.20" font-size="3.0" text-anchor="middle" fill="#333" stroke="#333" stroke-width="0.1">0.18</text>
<line x1="78.58" y1="309.8" x2="78.58" y2="310.8" stroke="#555" stroke-width="0.3"/>
<text x="78.58" y="314.20" font-size="3.0" text-anchor="middle" fill="#333" stroke="#333" stroke-width="0.1">0.20</text>
<line x1="111.87" y1="309.8" x2="111.87" y2="310.8" stroke="#555" stroke-width="0.3"/>
<text x="111.87" y="314.20" font-size="3.0" text-anchor="middle" fill="#333" stroke="#333" stroke-width="0.1">0.22</text>
<line x1="145.15" y1="309.8" x2="145.15" y2="310.8" stroke="#555" stroke-width="0.3"/>
<text x="145.15" y="314.20" font-size="3.0" text-anchor="middle" fill="#333" stroke="#333" stroke-width="0.1">0.24</text>
<line x1="178.43" y1="309.8" x2="178.43" y2="310.8" stroke="#555" stroke-width="0.3"/>
<text x="178.43" y="314.20" font-size="3.0" text-anchor="middle" fill="#333" stroke="#333" stroke-width="0.1">0.26</text>
<line x1="211.72" y1="309.8" x2="211.72" y2="310.8" stroke="#555" stroke-width="0.3"/>
<text x="211.72" y="314.20" font-size="3.0" text-anchor="middle" fill="#333" stroke="#333" stroke-width="0.1">0.28</text>
<line x1="245.00" y1="309.8" x2="245.00" y2="310.8" stroke="#555" stroke-width="0.3"/>
<text x="245.00" y="314.20" font-size="3.0" text-anchor="middle" fill="#333" stroke="#333" stroke-width="0.1">0.30</text>
<line x1="16.0" y1="309.80" x2="17.0" y2="309.80" stroke="#555" stroke-width="0.3"/>
<text x="15.00" y="310.90" font-size="3.0" text-anchor="end" fill="#333" stroke="#333" stroke-width="0.1">0</text>
<line x1="16.0" y1="289.27" x2="17.0" y2="289.27" stroke="#555" stroke-width="0.3"/>
<text x="15.00" y="290.38" font-size="3.0" text-anchor="end" fill="#333" stroke="#333" stroke-width="0.1">5</text>
<line x1="16.0" y1="268.75" x2="17.0" y2="268.75" stroke="#555" stroke-width="0.3"/>
<text x="15.00" y="269.85" font-size="3.0" text-anchor="end" fill="#333" stroke="#333" stroke-width="0.1">10</text>
<line x1="16.0" y1="248.22" x2="17.0" y2="248.22" stroke="#555" stroke-width="0.3"/>
<text x="15.00" y="249.32" font-size="3.0" text-anchor="end" fill="#333" stroke="#333" stroke-width="0.1">15</text>
<line x1="16.0" y1="227.70" x2="17.0" y2="227.70" stroke="#555" stroke-width="0.3"/>
<text x="15.00" y="228.80" font-size="3.0" text-anchor="end" fill="#333" stroke="#333" stroke-width="0.1">20</text>
<text x="143.50" y="206.40" font-size="4.23" text-anchor="middle" fill="#000" stroke="#000" stroke-width="0.16" xml:space="preserve" style="white-space:pre">NASA L2 Framework CNN-AB -  objective KDE plot diagram</text>
<text x="143.75" y="318.80" font-size="4.2" text-anchor="middle" fill="#222" stroke="#222" stroke-width="0.08">Objective</text>
<text x="8.30" y="259.30" font-size="4.2" text-anchor="middle" fill="#222" stroke="#222" stroke-width="0.08" transform="rotate(-90 8.30 259.30)">Density</text>
<rect x="229.8" y="211.40" width="6.9" height="2.2" fill="#e41a1c" fill-opacity="0.3"/>
<text x="238.50" y="213.60" font-size="3.02" text-anchor="start" fill="#000" stroke="#000" stroke-width="0.2">CNN-AB-MPPSO</text>
<rect x="229.8" y="215.90" width="6.9" height="2.2" fill="#377eb8" fill-opacity="0.3"/>
<text x="238.50" y="218.10" font-size="3.02" text-anchor="start" fill="#000" stroke="#000" stroke-width="0.2">CNN-AB-PSO</text>
<rect x="229.8" y="220.40" width="6.9" height="2.2" fill="#4daf4a" fill-opacity="0.3"/>
<text x="238.50" y="222.60" font-size="3.02" text-anchor="start" fill="#000" stroke="#000" stroke-width="0.2">CNN-AB-GA</text>
<rect x="229.8" y="224.90" width="6.9" height="2.2" fill="#984ea3" fill-opacity="0.3"/>
<text x="238.50" y="227.10" font-size="3.02" text-anchor="start" fill="#000" stroke="#000" stroke-width="0.2">CNN-AB-VNS</text>
<rect x="229.8" y="229.40" width="6.9" height="2.2" fill="#ff7f00" fill-opacity="0.3"/>
<text x="238.50" y="231.60" font-size="3.02" text-anchor="start" fill="#000" stroke="#000" stroke-width="0.2">CNN-AB-ABC</text>
<rect x="229.8" y="233.90" width="6.9" height="2.2" fill="#ffff33" fill-opacity="0.3"/>
<text x="238.50" y="236.10" font-size="3.02" text-anchor="start" fill="#000" stroke="#000" stroke-width="0.2">CNN-AB-BA</text>
<rect x="229.8" y="238.40" width="6.9" height="2.2" fill="#a65628" fill-opacity="0.3"/>
<text x="238.50" y="240.60" font-size="3.02" text-anchor="start" fill="#000" stroke="#000" stroke-width="0.2">CNN-AB-SCHO</text>
<rect x="229.8" y="242.90" width="6.9" height="2.2" fill="#f781bf" fill-opacity="0.3"/>
<text x="238.50" y="245.10" font-size="3.02" text-anchor="start" fill="#000" stroke="#000" stroke-width="0.2">CNN-AB-COLSHADE</text>
<rect x="292.6" y="209.7" width="250.89999999999998" height="100.10000000000002" fill="#e5e5e5"/>
<line x1="321.80" y1="209.7" x2="321.80" y2="309.8" stroke="#fff" stroke-opacity="0.85" stroke-width="0.35"/>
<line x1="368.65" y1="209.7" x2="368.65" y2="309.8" stroke="#fff" stroke-opacity="0.85" stroke-width="0.35"/>
<line x1="415.50" y1="209.7" x2="415.50" y2="309.8" stroke="#fff" stroke-opacity="0.85" stroke-width="0.35"/>
<line x1="462.35" y1="209.7" x2="462.35" y2="309.8" stroke="#fff" stroke-opacity="0.85" stroke-width="0.35"/>
<line x1="509.20" y1="209.7" x2="509.20" y2="309.8" stroke="#fff" stroke-opacity="0.85" stroke-width="0.35"/>
<line x1="292.6" y1="309.80" x2="543.5" y2="309.80" stroke="#fff" stroke-opacity="0.85" stroke-width="0.35"/>
<line x1="292.6" y1="297.69" x2="543.5" y2="297.69" stroke="#fff" stroke-opacity="0.85" stroke-width="0.35"/>
<line x1="292.6" y1="285.57" x2="543.5" y2="285.57" stroke="#fff" stroke-opacity="0.85" stroke-width="0.35"/>
<line x1="292.6" y1="273.46" x2="543.5" y2="273.46" stroke="#fff" stroke-opacity="0.85" stroke-width="0.35"/>
<line x1="292.6" y1="261.35" x2="543.5" y2="261.35" stroke="#fff" stroke-opacity="0.85" stroke-width="0.35"/>
<line x1="292.6" y1="249.24" x2="543.5" y2="249.24" stroke="#fff" stroke-opacity="0.85" stroke-width="0.35"/>
<line x1="292.6" y1="237.12" x2="543.5" y2="237.12" stroke="#fff" stroke-opacity="0.85" stroke-width="0.35"/>
<line x1="292.6" y1="225.01" x2="543.5" y2="225.01" stroke="#fff" stroke-opacity="0.85" stroke-width="0.35"/>
<line x1="292.6" y1="212.90" x2="543.5" y2="212.90" stroke="#fff" stroke-opacity="0.85" stroke-width="0.35"/>
<clipPath id="c3"><rect x="292.6" y="209.7" width="250.89999999999998" height="100.10000000000002"/></clipPath>
<g clip-path="url(#c3)">
<path d="M409.1,309.8 L409.1,309.3 409.7,309.2 410.3,309.1 410.9,309 411.5,308.9 412.2,308.8 412.8,308.7 413.4,308.5 414,308.4 414.6,308.2 415.2,308 415.8,307.7 416.5,307.5 417.1,307.2 417.7,306.9 418.3,306.6 418.9,306.2 419.5,305.8 420.1,305.4 420.8,304.9 421.4,304.4 422,303.8 422.6,303.2 423.2,302.6 423.8,301.9 424.4,301.1 425.1,300.3 425.7,299.4 426.3,298.5 426.9,297.5 427.5,296.4 428.1,295.3 428.8,294.1 429.4,292.8 430,291.5 430.6,290.1 431.2,288.6 431.8,287.1 432.4,285.5 433.1,283.8 433.7,282.1 434.3,280.3 434.9,278.4 435.5,276.5 436.1,274.5 436.7,272.5 437.4,270.5 438,268.3 438.6,266.2 439.2,264 439.8,261.8 440.4,259.6 441.1,257.4 441.7,255.2 442.3,253 442.9,250.8 443.5,248.7 444.1,246.5 444.7,244.4 445.4,242.4 446,240.4 446.6,238.5 447.2,236.7 447.8,235 448.4,233.3 449,231.8 449.7,230.4 450.3,229.1 450.9,227.9 451.5,226.8 452.1,225.9 452.7,225.2 453.4,224.5 454,224.1 454.6,223.8 455.2,223.6 455.8,223.6 456.4,223.8 457,224.2 457.7,224.8 458.3,225.7 458.9,226.7 459.5,228 460.1,229.4 460.7,231 461.3,232.8 462,234.7 462.6,236.7 463.2,238.9 463.8,241.2 464.4,243.6 465,246.1 465.6,248.6 466.3,251.2 466.9,253.8 467.5,256.4 468.1,259.1 468.7,261.7 469.3,264.3 470,266.9 470.6,269.4 471.2,271.9 471.8,274.3 472.4,276.7 473,279 473.6,281.2 474.3,283.3 474.9,285.3 475.5,287.2 476.1,289 476.7,290.7 477.3,292.4 477.9,293.9 478.6,295.3 479.2,296.6 479.8,297.9 480.4,299 481,300.1 481.6,301.1 482.3,302 482.9,302.8 483.5,303.6 484.1,304.3 484.7,304.9 485.3,305.4 485.9,306 486.6,306.4 487.2,306.8 487.8,307.2 488.4,307.5 489,307.8 489.6,308.1 490.2,308.3 490.9,308.5 491.5,308.7 492.1,308.8 492.7,309 493.3,309.1 493.9,309.2 494.6,309.3 494.6,309.8Z" fill="#f781bf" fill-opacity="0.3"/>
<path d="M419.5,309.8 L419.5,309.2 420,309.2 420.6,309.1 421.1,308.9 421.7,308.8 422.2,308.7 422.8,308.5 423.3,308.3 423.9,308.1 424.4,307.9 425,307.6 425.5,307.3 426.1,307 426.6,306.6 427.2,306.2 427.7,305.8 428.3,305.3 428.8,304.8 429.4,304.2 429.9,303.5 430.5,302.8 431,302.1 431.6,301.2 432.1,300.3 432.7,299.3 433.2,298.3 433.8,297.2 434.3,295.9 434.9,294.6 435.4,293.3 436,291.8 436.5,290.2 437.1,288.6 437.6,286.8 438.2,285 438.7,283.1 439.3,281.1 439.8,279 440.4,276.8 440.9,274.6 441.5,272.3 442,269.9 442.6,267.4 443.1,264.9 443.6,262.3 444.2,259.7 444.7,257.1 445.3,254.5 445.8,251.8 446.4,249.2 446.9,246.5 447.5,243.9 448,241.3 448.6,238.8 449.1,236.3 449.7,233.9 450.2,231.6 450.8,229.4 451.3,227.4 451.9,225.4 452.4,223.6 453,221.9 453.5,220.4 454.1,219 454.6,217.9 455.2,216.9 455.7,216.1 456.3,215.5 456.8,215.1 457.4,214.9 457.9,214.9 458.5,215.1 459,215.5 459.6,216 460.1,216.8 460.7,217.8 461.2,219 461.8,220.3 462.3,221.8 462.9,223.5 463.4,225.3 464,227.2 464.5,229.3 465.1,231.5 465.6,233.8 466.2,236.2 466.7,238.7 467.3,241.2 467.8,243.8 468.4,246.4 468.9,249 469.5,251.7 470,254.3 470.6,257 471.1,259.6 471.6,262.2 472.2,264.8 472.7,267.3 473.3,269.7 473.8,272.1 474.4,274.4 474.9,276.7 475.5,278.9 476,281 476.6,283 477.1,284.9 477.7,286.7 478.2,288.5 478.8,290.1 479.3,291.7 479.9,293.2 480.4,294.6 481,295.9 481.5,297.1 482.1,298.2 482.6,299.3 483.2,300.3 483.7,301.2 484.3,302 484.8,302.8 485.4,303.5 485.9,304.1 486.5,304.7 487,305.3 487.6,305.8 488.1,306.2 488.7,306.6 489.2,307 489.8,307.3 490.3,307.6 490.9,307.9 491.4,308.1 492,308.3 492.5,308.5 493.1,308.7 493.6,308.8 494.2,308.9 494.7,309.1 495.3,309.2 495.8,309.2 495.8,309.8Z" fill="#a65628" fill-opacity="0.3"/>
<path d="M311.9,309.8 L311.9,309.6 313.3,309.6 314.6,309.5 316,309.5 317.3,309.4 318.7,309.4 320,309.3 321.3,309.3 322.7,309.2 324,309.1 325.4,309 326.7,308.8 328.1,308.7 329.4,308.6 330.8,308.4 332.1,308.2 333.4,308 334.8,307.8 336.1,307.6 337.5,307.3 338.8,307.1 340.2,306.8 341.5,306.4 342.9,306.1 344.2,305.8 345.5,305.4 346.9,305 348.2,304.6 349.6,304.1 350.9,303.7 352.3,303.2 353.6,302.7 355,302.2 356.3,301.7 357.6,301.2 359,300.7 360.3,300.1 361.7,299.6 363,299 364.4,298.5 365.7,297.9 367.1,297.4 368.4,296.9 369.7,296.3 371.1,295.8 372.4,295.3 373.8,294.8 375.1,294.2 376.5,293.7 377.8,293.3 379.2,292.8 380.5,292.3 381.8,291.8 383.2,291.3 384.5,290.8 385.9,290.3 387.2,289.8 388.6,289.2 389.9,288.7 391.3,288.1 392.6,287.6 393.9,287 395.3,286.4 396.6,285.8 398,285.3 399.3,284.7 400.7,284.1 402,283.5 403.4,283 404.7,282.4 406,281.9 407.4,281.4 408.7,280.9 410.1,280.5 411.4,280.1 412.8,279.8 414.1,279.5 415.5,279.2 416.8,279 418.1,278.9 419.5,278.9 420.8,278.9 422.2,279 423.5,279.2 424.9,279.4 426.2,279.7 427.6,280.1 428.9,280.6 430.2,281.1 431.6,281.7 432.9,282.4 434.3,283.1 435.6,283.9 437,284.8 438.3,285.6 439.7,286.6 441,287.5 442.3,288.5 443.7,289.5 445,290.5 446.4,291.5 447.7,292.5 449.1,293.5 450.4,294.5 451.8,295.5 453.1,296.5 454.4,297.4 455.8,298.3 457.1,299.2 458.5,300 459.8,300.8 461.2,301.6 462.5,302.3 463.9,303 465.2,303.6 466.5,304.2 467.9,304.8 469.2,305.3 470.6,305.8 471.9,306.2 473.3,306.6 474.6,307 476,307.3 477.3,307.6 478.6,307.9 480,308.1 481.3,308.3 482.7,308.5 484,308.7 485.4,308.8 486.7,309 488.1,309.1 489.4,309.2 490.8,309.3 492.1,309.4 493.4,309.4 494.8,309.5 496.1,309.5 497.5,309.6 498.8,309.6 498.8,309.8Z" fill="#ffff33" fill-opacity="0.3"/>
<path d="M346.9,309.8 L346.9,309.5 348,309.4 349,309.4 350,309.3 351,309.2 352,309.2 353,309.1 354.1,309 355.1,308.8 356.1,308.7 357.1,308.6 358.1,308.4 359.1,308.2 360.1,308 361.2,307.8 362.2,307.5 363.2,307.2 364.2,306.9 365.2,306.6 366.2,306.2 367.2,305.8 368.3,305.3 369.3,304.8 370.3,304.3 371.3,303.7 372.3,303.1 373.3,302.5 374.4,301.8 375.4,301 376.4,300.2 377.4,299.4 378.4,298.4 379.4,297.5 380.4,296.5 381.5,295.4 382.5,294.3 383.5,293.2 384.5,291.9 385.5,290.7 386.5,289.4 387.5,288.1 388.6,286.7 389.6,285.3 390.6,283.9 391.6,282.4 392.6,281 393.6,279.5 394.6,278 395.7,276.5 396.7,275.1 397.7,273.6 398.7,272.2 399.7,270.8 400.7,269.4 401.8,268.1 402.8,266.8 403.8,265.6 404.8,264.5 405.8,263.4 406.8,262.4 407.8,261.5 408.9,260.7 409.9,260 410.9,259.4 411.9,258.9 412.9,258.5 413.9,258.2 414.9,258 416,258 417,258 418,258.2 419,258.4 420,258.8 421,259.3 422.1,259.8 423.1,260.5 424.1,261.2 425.1,262.1 426.1,263 427.1,264 428.1,265 429.2,266.1 430.2,267.3 431.2,268.6 432.2,269.8 433.2,271.2 434.2,272.5 435.2,273.9 436.3,275.3 437.3,276.7 438.3,278.1 439.3,279.5 440.3,281 441.3,282.4 442.4,283.8 443.4,285.1 444.4,286.5 445.4,287.8 446.4,289.1 447.4,290.3 448.4,291.5 449.5,292.7 450.5,293.8 451.5,294.9 452.5,295.9 453.5,296.9 454.5,297.9 455.5,298.8 456.6,299.6 457.6,300.4 458.6,301.2 459.6,301.9 460.6,302.6 461.6,303.2 462.6,303.8 463.7,304.3 464.7,304.8 465.7,305.3 466.7,305.7 467.7,306.1 468.7,306.5 469.8,306.8 470.8,307.1 471.8,307.4 472.8,307.7 473.8,307.9 474.8,308.1 475.8,308.3 476.9,308.5 477.9,308.6 478.9,308.8 479.9,308.9 480.9,309 481.9,309.1 482.9,309.2 484,309.3 485,309.3 486,309.4 487,309.4 488,309.5 488,309.8Z" fill="#ff7f00" fill-opacity="0.3"/>
<path d="M407.9,309.8 L407.9,309.4 408.6,309.3 409.2,309.2 409.9,309.1 410.5,309 411.2,308.9 411.8,308.8 412.5,308.7 413.1,308.5 413.8,308.3 414.4,308.1 415.1,307.9 415.7,307.6 416.4,307.4 417,307.1 417.7,306.7 418.3,306.3 419,305.9 419.6,305.5 420.2,305 420.9,304.4 421.5,303.8 422.2,303.2 422.8,302.5 423.5,301.8 424.1,301 424.8,300.1 425.4,299.2 426.1,298.2 426.7,297.1 427.4,296 428,294.8 428.7,293.5 429.3,292.2 430,290.8 430.6,289.3 431.3,287.8 431.9,286.2 432.5,284.5 433.2,282.8 433.8,281 434.5,279.2 435.1,277.3 435.8,275.4 436.4,273.5 437.1,271.5 437.7,269.5 438.4,267.4 439,265.4 439.7,263.4 440.3,261.4 441,259.4 441.6,257.4 442.3,255.5 442.9,253.6 443.6,251.8 444.2,250 444.8,248.3 445.5,246.7 446.1,245.2 446.8,243.8 447.4,242.6 448.1,241.4 448.7,240.4 449.4,239.5 450,238.7 450.7,238.1 451.3,237.6 452,237.3 452.6,237.1 453.3,237.1 453.9,237.3 454.6,237.6 455.2,238 455.9,238.6 456.5,239.4 457.2,240.3 457.8,241.3 458.4,242.4 459.1,243.7 459.7,245.1 460.4,246.5 461,248.1 461.7,249.8 462.3,251.6 463,253.4 463.6,255.2 464.3,257.2 464.9,259.1 465.6,261.1 466.2,263.2 466.9,265.2 467.5,267.2 468.2,269.2 468.8,271.2 469.5,273.2 470.1,275.2 470.7,277.1 471.4,279 472,280.8 472.7,282.6 473.3,284.3 474,286 474.6,287.6 475.3,289.2 475.9,290.6 476.6,292 477.2,293.4 477.9,294.6 478.5,295.8 479.2,297 479.8,298 480.5,299.1 481.1,300 481.8,300.9 482.4,301.7 483,302.4 483.7,303.1 484.3,303.8 485,304.4 485.6,304.9 486.3,305.4 486.9,305.9 487.6,306.3 488.2,306.7 488.9,307 489.5,307.3 490.2,307.6 490.8,307.9 491.5,308.1 492.1,308.3 492.8,308.5 493.4,308.6 494.1,308.8 494.7,308.9 495.3,309 496,309.1 496.6,309.2 497.3,309.3 497.9,309.4 497.9,309.8Z" fill="#984ea3" fill-opacity="0.3"/>
<path d="M390,309.8 L390,309.5 390.8,309.4 391.6,309.4 392.4,309.3 393.2,309.2 394,309.2 394.8,309.1 395.6,309 396.4,308.9 397.2,308.8 398,308.7 398.8,308.5 399.6,308.4 400.4,308.2 401.2,308.1 402,307.9 402.8,307.7 403.6,307.4 404.4,307.2 405.2,306.9 406,306.6 406.8,306.3 407.6,305.9 408.4,305.5 409.2,305.1 410,304.7 410.8,304.2 411.5,303.7 412.3,303.2 413.1,302.6 413.9,302 414.7,301.4 415.5,300.7 416.3,300 417.1,299.2 417.9,298.4 418.7,297.5 419.5,296.7 420.3,295.7 421.1,294.8 421.9,293.8 422.7,292.7 423.5,291.6 424.3,290.5 425.1,289.4 425.9,288.2 426.7,286.9 427.5,285.7 428.3,284.4 429.1,283.1 429.9,281.8 430.7,280.4 431.5,279.1 432.3,277.7 433.1,276.4 433.9,275 434.7,273.6 435.5,272.3 436.3,270.9 437.1,269.6 437.9,268.3 438.7,267 439.5,265.8 440.3,264.5 441.1,263.4 441.9,262.3 442.7,261.2 443.5,260.2 444.3,259.3 445.1,258.4 445.9,257.6 446.7,256.9 447.5,256.2 448.3,255.7 449.1,255.2 449.9,254.8 450.7,254.5 451.5,254.2 452.3,254.1 453.1,254.1 453.9,254.2 454.7,254.4 455.5,254.8 456.3,255.4 457,256.1 457.8,256.9 458.6,257.9 459.4,259 460.2,260.2 461,261.6 461.8,263 462.6,264.5 463.4,266.1 464.2,267.8 465,269.5 465.8,271.2 466.6,273 467.4,274.8 468.2,276.6 469,278.4 469.8,280.2 470.6,281.9 471.4,283.6 472.2,285.3 473,287 473.8,288.6 474.6,290.1 475.4,291.6 476.2,293 477,294.4 477.8,295.7 478.6,296.9 479.4,298 480.2,299.1 481,300.1 481.8,301 482.6,301.9 483.4,302.7 484.2,303.4 485,304.1 485.8,304.7 486.6,305.3 487.4,305.8 488.2,306.3 489,306.7 489.8,307.1 490.6,307.4 491.4,307.7 492.2,308 493,308.2 493.8,308.4 494.6,308.6 495.4,308.8 496.2,308.9 497,309 497.8,309.2 498.6,309.3 499.4,309.3 500.2,309.4 501,309.5 501,309.8Z" fill="#4daf4a" fill-opacity="0.3"/>
<path d="M428.3,309.8 L428.3,309.3 428.8,309.2 429.4,309.2 429.9,309.1 430.5,309 431,308.8 431.6,308.7 432.1,308.6 432.7,308.4 433.2,308.2 433.8,308.1 434.3,307.8 434.9,307.6 435.4,307.3 436,307.1 436.5,306.7 437.1,306.4 437.6,306 438.2,305.6 438.7,305.1 439.3,304.7 439.8,304.1 440.4,303.5 440.9,302.9 441.5,302.2 442,301.5 442.6,300.8 443.2,299.9 443.7,299 444.3,298.1 444.8,297.1 445.4,296 445.9,294.9 446.5,293.7 447,292.4 447.6,291.1 448.1,289.7 448.7,288.2 449.2,286.7 449.8,285.1 450.3,283.4 450.9,281.7 451.4,279.9 452,278.1 452.5,276.2 453.1,274.3 453.6,272.3 454.2,270.3 454.7,268.2 455.3,266.1 455.8,264 456.4,261.9 456.9,259.7 457.5,257.6 458,255.4 458.6,253.3 459.1,251.2 459.7,249.1 460.2,247.1 460.8,245.1 461.3,243.1 461.9,241.2 462.4,239.4 463,237.7 463.5,236 464.1,234.5 464.6,233 465.2,231.7 465.7,230.5 466.3,229.4 466.8,228.4 467.4,227.6 467.9,226.9 468.5,226.3 469,225.9 469.6,225.6 470.1,225.5 470.7,225.5 471.2,225.8 471.8,226.3 472.3,227 472.9,227.9 473.4,229 474,230.3 474.5,231.8 475.1,233.4 475.6,235.2 476.2,237.2 476.8,239.3 477.3,241.5 477.9,243.8 478.4,246.2 479,248.7 479.5,251.2 480.1,253.8 480.6,256.4 481.2,259 481.7,261.6 482.3,264.2 482.8,266.8 483.4,269.3 483.9,271.8 484.5,274.2 485,276.5 485.6,278.8 486.1,281 486.7,283.1 487.2,285.2 487.8,287.1 488.3,288.9 488.9,290.7 489.4,292.3 490,293.8 490.5,295.3 491.1,296.6 491.6,297.9 492.2,299 492.7,300.1 493.3,301.1 493.8,302 494.4,302.8 494.9,303.6 495.5,304.3 496,304.9 496.6,305.5 497.1,306 497.7,306.4 498.2,306.9 498.8,307.2 499.3,307.6 499.9,307.8 500.4,308.1 501,308.3 501.5,308.5 502.1,308.7 502.6,308.9 503.2,309 503.7,309.1 504.3,309.2 504.8,309.3 504.8,309.8Z" fill="#377eb8" fill-opacity="0.3"/>
<path d="M398.7,309.8 L398.7,309.5 399.4,309.4 400.1,309.3 400.8,309.3 401.5,309.1 402.2,309 402.9,308.9 403.6,308.7 404.3,308.5 405.1,308.3 405.8,308.1 406.5,307.8 407.2,307.5 407.9,307.2 408.6,306.8 409.3,306.4 410,305.9 410.7,305.3 411.4,304.7 412.2,304.1 412.9,303.4 413.6,302.6 414.3,301.8 415,300.9 415.7,299.9 416.4,298.8 417.1,297.7 417.8,296.5 418.6,295.3 419.3,293.9 420,292.5 420.7,291.1 421.4,289.6 422.1,288.1 422.8,286.5 423.5,284.9 424.2,283.2 425,281.6 425.7,279.9 426.4,278.3 427.1,276.7 427.8,275.1 428.5,273.5 429.2,272 429.9,270.6 430.6,269.2 431.3,267.9 432.1,266.7 432.8,265.7 433.5,264.7 434.2,263.8 434.9,263 435.6,262.3 436.3,261.8 437,261.4 437.7,261.1 438.5,260.8 439.2,260.7 439.9,260.7 440.6,260.7 441.3,260.8 442,261 442.7,261.2 443.4,261.4 444.1,261.6 444.8,261.9 445.6,262.1 446.3,262.3 447,262.5 447.7,262.6 448.4,262.7 449.1,262.7 449.8,262.6 450.5,262.5 451.2,262.3 452,262 452.7,261.7 453.4,261.3 454.1,260.8 454.8,260.3 455.5,259.8 456.2,259.3 456.9,258.7 457.6,258.2 458.4,257.7 459.1,257.2 459.8,256.8 460.5,256.5 461.2,256.3 461.9,256.1 462.6,256.1 463.3,256.3 464,256.5 464.7,256.9 465.5,257.5 466.2,258.2 466.9,259.2 467.6,260.3 468.3,261.6 469,263.1 469.7,264.7 470.4,266.4 471.1,268.3 471.9,270.2 472.6,272.2 473.3,274.3 474,276.4 474.7,278.6 475.4,280.7 476.1,282.8 476.8,284.9 477.5,286.9 478.2,288.8 479,290.7 479.7,292.5 480.4,294.2 481.1,295.8 481.8,297.3 482.5,298.7 483.2,299.9 483.9,301.1 484.6,302.2 485.4,303.2 486.1,304 486.8,304.8 487.5,305.5 488.2,306.1 488.9,306.7 489.6,307.1 490.3,307.6 491,307.9 491.8,308.2 492.5,308.5 493.2,308.7 493.9,308.9 494.6,309.1 495.3,309.2 496,309.3 496.7,309.4 497.4,309.5 497.4,309.8Z" fill="#e41a1c" fill-opacity="0.3"/>
</g>
<line x1="321.80" y1="309.8" x2="321.80" y2="310.8" stroke="#555" stroke-width="0.3"/>
<text x="321.80" y="314.20" font-size="3.0" text-anchor="middle" fill="#333" stroke="#333" stroke-width="0.1">0.25</text>
<line x1="368.65" y1="309.8" x2="368.65" y2="310.8" stroke="#555" stroke-width="0.3"/>
<text x="368.65" y="314.20" font-size="3.0" text-anchor="middle" fill="#333" stroke="#333" stroke-width="0.1">0.26</text>
<line x1="415.50" y1="309.8" x2="415.50" y2="310.8" stroke="#555" stroke-width="0.3"/>
<text x="415.50" y="314.20" font-size="3.0" text-anchor="middle" fill="#333" stroke="#333" stroke-width="0.1">0.27</text>
<line x1="462.35" y1="309.8" x2="462.35" y2="310.8" stroke="#555" stroke-width="0.3"/>
<text x="462.35" y="314.20" font-size="3.0" text-anchor="middle" fill="#333" stroke="#333" stroke-width="0.1">0.28</text>
<line x1="509.20" y1="309.8" x2="509.20" y2="310.8" stroke="#555" stroke-width="0.3"/>
<text x="509.20" y="314.20" font-size="3.0" text-anchor="middle" fill="#333" stroke="#333" stroke-width="0.1">0.29</text>
<line x1="291.6" y1="309.80" x2="292.6" y2="309.80" stroke="#555" stroke-width="0.3"/>
<text x="290.60" y="310.90" font-size="3.0" text-anchor="end" fill="#333" stroke="#333" stroke-width="0.1">0.0</text>
<line x1="291.6" y1="297.69" x2="292.6" y2="297.69" stroke="#555" stroke-width="0.3"/>
<text x="290.60" y="298.79" font-size="3.0" text-anchor="end" fill="#333" stroke="#333" stroke-width="0.1">2.5</text>
<line x1="291.6" y1="285.57" x2="292.6" y2="285.57" stroke="#555" stroke-width="0.3"/>
<text x="290.60" y="286.68" font-size="3.0" text-anchor="end" fill="#333" stroke="#333" stroke-width="0.1">5.0</text>
<line x1="291.6" y1="273.46" x2="292.6" y2="273.46" stroke="#555" stroke-width="0.3"/>
<text x="290.60" y="274.56" font-size="3.0" text-anchor="end" fill="#333" stroke="#333" stroke-width="0.1">7.5</text>
<line x1="291.6" y1="261.35" x2="292.6" y2="261.35" stroke="#555" stroke-width="0.3"/>
<text x="290.60" y="262.45" font-size="3.0" text-anchor="end" fill="#333" stroke="#333" stroke-width="0.1">10.0</text>
<line x1="291.6" y1="249.24" x2="292.6" y2="249.24" stroke="#555" stroke-width="0.3"/>
<text x="290.60" y="250.34" font-size="3.0" text-anchor="end" fill="#333" stroke="#333" stroke-width="0.1">12.5</text>
<line x1="291.6" y1="237.12" x2="292.6" y2="237.12" stroke="#555" stroke-width="0.3"/>
<text x="290.60" y="238.22" font-size="3.0" text-anchor="end" fill="#333" stroke="#333" stroke-width="0.1">15.0</text>
<line x1="291.6" y1="225.01" x2="292.6" y2="225.01" stroke="#555" stroke-width="0.3"/>
<text x="290.60" y="226.11" font-size="3.0" text-anchor="end" fill="#333" stroke="#333" stroke-width="0.1">17.5</text>
<line x1="291.6" y1="212.90" x2="292.6" y2="212.90" stroke="#555" stroke-width="0.3"/>
<text x="290.60" y="214.00" font-size="3.0" text-anchor="end" fill="#333" stroke="#333" stroke-width="0.1">20.0</text>
<text x="417.50" y="207.00" font-size="4.23" text-anchor="middle" fill="#000" stroke="#000" stroke-width="0.16" xml:space="preserve" style="white-space:pre">NASA L2 Framework CNN-XG -  objective KDE plot diagram</text>
<text x="418.05" y="318.80" font-size="4.2" text-anchor="middle" fill="#222" stroke="#222" stroke-width="0.08">Objective</text>
<text x="281.80" y="259.75" font-size="4.2" text-anchor="middle" fill="#222" stroke="#222" stroke-width="0.08" transform="rotate(-90 281.80 259.75)">Density</text>
<rect x="503.2" y="212.50" width="6.5" height="2.2" fill="#e41a1c" fill-opacity="0.3"/>
<text x="511.90" y="214.70" font-size="3.02" text-anchor="start" fill="#000" stroke="#000" stroke-width="0.2">CNN-XG-MPPSO</text>
<rect x="503.2" y="216.96" width="6.5" height="2.2" fill="#377eb8" fill-opacity="0.3"/>
<text x="511.90" y="219.16" font-size="3.02" text-anchor="start" fill="#000" stroke="#000" stroke-width="0.2">CNN-XG-PSO</text>
<rect x="503.2" y="221.42" width="6.5" height="2.2" fill="#4daf4a" fill-opacity="0.3"/>
<text x="511.90" y="223.62" font-size="3.02" text-anchor="start" fill="#000" stroke="#000" stroke-width="0.2">CNN-XG-GA</text>
<rect x="503.2" y="225.88" width="6.5" height="2.2" fill="#984ea3" fill-opacity="0.3"/>
<text x="511.90" y="228.08" font-size="3.02" text-anchor="start" fill="#000" stroke="#000" stroke-width="0.2">CNN-XG-VNS</text>
<rect x="503.2" y="230.34" width="6.5" height="2.2" fill="#ff7f00" fill-opacity="0.3"/>
<text x="511.90" y="232.54" font-size="3.02" text-anchor="start" fill="#000" stroke="#000" stroke-width="0.2">CNN-XG-ABC</text>
<rect x="503.2" y="234.80" width="6.5" height="2.2" fill="#ffff33" fill-opacity="0.3"/>
<text x="511.90" y="237.00" font-size="3.02" text-anchor="start" fill="#000" stroke="#000" stroke-width="0.2">CNN-XG-BA</text>
<rect x="503.2" y="239.26" width="6.5" height="2.2" fill="#a65628" fill-opacity="0.3"/>
<text x="511.90" y="241.46" font-size="3.02" text-anchor="start" fill="#000" stroke="#000" stroke-width="0.2">CNN-XG-SCHO</text>
<rect x="503.2" y="243.72" width="6.5" height="2.2" fill="#f781bf" fill-opacity="0.3"/>
<text x="511.90" y="245.92" font-size="3.02" text-anchor="start" fill="#000" stroke="#000" stroke-width="0.2">CNN-XG-COLSHADE</text>
<rect x="2.8" y="324.6" width="270.4" height="112.09999999999997" fill="#f0f0f0"/>
<line x1="17.60" y1="331.6" x2="17.60" y2="427.7" stroke="#cbcbcb" stroke-width="0.45"/>
<line x1="58.87" y1="331.6" x2="58.87" y2="427.7" stroke="#cbcbcb" stroke-width="0.45"/>
<line x1="100.13" y1="331.6" x2="100.13" y2="427.7" stroke="#cbcbcb" stroke-width="0.45"/>
<line x1="141.40" y1="331.6" x2="141.40" y2="427.7" stroke="#cbcbcb" stroke-width="0.45"/>
<line x1="182.67" y1="331.6" x2="182.67" y2="427.7" stroke="#cbcbcb" stroke-width="0.45"/>
<line x1="223.93" y1="331.6" x2="223.93" y2="427.7" stroke="#cbcbcb" stroke-width="0.45"/>
<line x1="265.20" y1="331.6" x2="265.20" y2="427.7" stroke="#cbcbcb" stroke-width="0.45"/>
<line x1="16.0" y1="425.40" x2="268.5" y2="425.40" stroke="#cbcbcb" stroke-width="0.45" stroke-opacity="0.45"/>
<line x1="16.0" y1="405.35" x2="268.5" y2="405.35" stroke="#cbcbcb" stroke-width="0.45"/>
<line x1="16.0" y1="385.30" x2="268.5" y2="385.30" stroke="#cbcbcb" stroke-width="0.45"/>
<line x1="16.0" y1="365.25" x2="268.5" y2="365.25" stroke="#cbcbcb" stroke-width="0.45"/>
<line x1="16.0" y1="345.20" x2="268.5" y2="345.20" stroke="#cbcbcb" stroke-width="0.45"/>
<clipPath id="c4"><rect x="16.0" y="331.6" width="252.5" height="93.79999999999995"/></clipPath>
<g clip-path="url(#c4)">
<path d="M110.4,425.4 L110.4,425.1 110.9,425 111.5,425 112.1,424.9 112.6,424.8 113.2,424.7 113.8,424.6 114.4,424.5 114.9,424.3 115.5,424.2 116.1,424 116.6,423.8 117.2,423.5 117.8,423.3 118.3,422.9 118.9,422.6 119.5,422.2 120.1,421.8 120.6,421.4 121.2,420.8 121.8,420.3 122.3,419.7 122.9,419 123.5,418.3 124.1,417.5 124.6,416.7 125.2,415.8 125.8,414.8 126.3,413.8 126.9,412.7 127.5,411.6 128,410.4 128.6,409.1 129.2,407.8 129.8,406.4 130.3,405 130.9,403.5 131.5,402 132,400.4 132.6,398.8 133.2,397.2 133.8,395.6 134.3,394 134.9,392.4 135.5,390.8 136,389.2 136.6,387.7 137.2,386.2 137.7,384.8 138.3,383.4 138.9,382.1 139.5,380.9 140,379.8 140.6,378.8 141.2,377.9 141.7,377.1 142.3,376.5 142.9,376 143.5,375.6 144,375.4 144.6,375.3 145.2,375.3 145.7,375.4 146.3,375.6 146.9,375.9 147.5,376.2 148,376.7 148.6,377.2 149.2,377.7 149.7,378.4 150.3,379.1 150.9,379.9 151.4,380.7 152,381.6 152.6,382.6 153.2,383.6 153.7,384.6 154.3,385.7 154.9,386.9 155.4,388 156,389.2 156.6,390.4 157.2,391.6 157.7,392.8 158.3,394 158.9,395.3 159.4,396.5 160,397.7 160.6,399 161.1,400.2 161.7,401.4 162.3,402.5 162.9,403.7 163.4,404.8 164,405.9 164.6,407 165.1,408.1 165.7,409.1 166.3,410 166.9,411 167.4,411.9 168,412.8 168.6,413.6 169.1,414.4 169.7,415.2 170.3,415.9 170.8,416.6 171.4,417.2 172,417.8 172.6,418.4 173.1,419 173.7,419.5 174.3,420 174.8,420.4 175.4,420.8 176,421.2 176.6,421.6 177.1,421.9 177.7,422.2 178.3,422.5 178.8,422.8 179.4,423 180,423.3 180.5,423.5 181.1,423.7 181.7,423.8 182.3,424 182.8,424.2 183.4,424.3 184,424.4 184.5,424.5 185.1,424.6 185.7,424.7 186.3,424.8 186.8,424.8 187.4,424.9 188,425 188.5,425 189.1,425.1 189.7,425.1 189.7,425.4Z" fill="#f781bf" fill-opacity="0.3"/>
<path d="M101.1,425.4 L101.1,425 101.8,424.9 102.5,424.9 103.2,424.8 103.9,424.8 104.6,424.7 105.3,424.6 106,424.6 106.7,424.5 107.4,424.4 108.1,424.3 108.8,424.2 109.5,424.1 110.2,424 110.9,423.9 111.6,423.7 112.3,423.6 113,423.4 113.7,423.3 114.4,423.1 115.1,422.9 115.8,422.7 116.5,422.5 117.2,422.3 117.9,422.1 118.6,421.9 119.3,421.6 120,421.3 120.7,421.1 121.4,420.8 122.1,420.4 122.8,420.1 123.5,419.7 124.2,419.3 124.9,418.8 125.6,418.3 126.3,417.7 127,417.1 127.7,416.4 128.4,415.7 129.1,414.8 129.7,413.9 130.4,412.8 131.1,411.6 131.8,410.3 132.5,408.8 133.2,407.2 133.9,405.4 134.6,403.4 135.3,401.3 136,399 136.7,396.5 137.4,393.8 138.1,391.1 138.8,388.1 139.5,385.1 140.2,382.1 140.9,378.9 141.6,375.8 142.3,372.7 143,369.8 143.7,366.9 144.4,364.3 145.1,361.8 145.8,359.7 146.5,357.8 147.2,356.3 147.9,355.2 148.6,354.5 149.3,354.2 150,354.4 150.7,354.9 151.4,355.9 152.1,357.2 152.8,358.9 153.5,361 154.2,363.3 154.9,365.9 155.6,368.7 156.3,371.6 157,374.6 157.7,377.7 158.4,380.8 159.1,383.9 159.8,387 160.5,389.9 161.2,392.7 161.9,395.4 162.6,397.9 163.2,400.3 163.9,402.5 164.6,404.5 165.3,406.3 166,408 166.7,409.6 167.4,410.9 168.1,412.2 168.8,413.3 169.5,414.3 170.2,415.2 170.9,416 171.6,416.7 172.3,417.3 173,417.9 173.7,418.4 174.4,418.9 175.1,419.3 175.8,419.7 176.5,420.1 177.2,420.5 177.9,420.8 178.6,421.1 179.3,421.4 180,421.6 180.7,421.9 181.4,422.1 182.1,422.3 182.8,422.5 183.5,422.7 184.2,422.9 184.9,423.1 185.6,423.3 186.3,423.4 187,423.6 187.7,423.7 188.4,423.9 189.1,424 189.8,424.1 190.5,424.2 191.2,424.3 191.9,424.4 192.6,424.5 193.3,424.6 194,424.6 194.7,424.7 195.4,424.8 196,424.8 196.7,424.9 197.4,424.9 198.1,425 198.1,425.4Z" fill="#a65628" fill-opacity="0.3"/>
<path d="M48.5,425.4 L48.5,425.3 50,425.3 51.5,425.2 53,425.2 54.6,425.1 56.1,425.1 57.6,425 59.1,425 60.6,424.9 62.2,424.8 63.7,424.7 65.2,424.6 66.7,424.4 68.3,424.3 69.8,424.1 71.3,424 72.8,423.8 74.4,423.6 75.9,423.3 77.4,423.1 78.9,422.8 80.4,422.5 82,422.3 83.5,422 85,421.6 86.5,421.3 88.1,421 89.6,420.6 91.1,420.3 92.6,420 94.2,419.6 95.7,419.3 97.2,419 98.7,418.7 100.2,418.4 101.8,418.1 103.3,417.9 104.8,417.7 106.3,417.5 107.9,417.3 109.4,417.1 110.9,417 112.4,416.8 114,416.7 115.5,416.6 117,416.5 118.5,416.3 120,416.2 121.6,416.1 123.1,415.9 124.6,415.8 126.1,415.7 127.7,415.5 129.2,415.3 130.7,415.1 132.2,414.9 133.8,414.7 135.3,414.5 136.8,414.2 138.3,413.9 139.8,413.6 141.4,413.3 142.9,413 144.4,412.6 145.9,412.3 147.5,411.9 149,411.5 150.5,411.1 152,410.7 153.6,410.3 155.1,409.8 156.6,409.4 158.1,409 159.6,408.6 161.2,408.2 162.7,407.8 164.2,407.4 165.7,407.1 167.3,406.7 168.8,406.4 170.3,406.2 171.8,405.9 173.4,405.7 174.9,405.6 176.4,405.5 177.9,405.4 179.4,405.4 181,405.4 182.5,405.5 184,405.6 185.5,405.8 187.1,406.1 188.6,406.5 190.1,406.9 191.6,407.3 193.2,407.9 194.7,408.4 196.2,409 197.7,409.7 199.2,410.4 200.8,411.1 202.3,411.8 203.8,412.5 205.3,413.2 206.9,414 208.4,414.7 209.9,415.4 211.4,416.1 212.9,416.8 214.5,417.5 216,418.1 217.5,418.8 219,419.4 220.6,419.9 222.1,420.4 223.6,420.9 225.1,421.4 226.7,421.8 228.2,422.2 229.7,422.6 231.2,422.9 232.7,423.2 234.3,423.5 235.8,423.7 237.3,423.9 238.8,424.1 240.4,424.3 241.9,424.4 243.4,424.6 244.9,424.7 246.5,424.8 248,424.9 249.5,425 251,425 252.5,425.1 254.1,425.1 255.6,425.2 257.1,425.2 258.6,425.3 260.2,425.3 260.2,425.4Z" fill="#ffff33" fill-opacity="0.3"/>
<path d="M68.5,425.4 L68.5,425.3 69.7,425.2 70.8,425.2 72,425.2 73.2,425.1 74.3,425.1 75.5,425 76.6,424.9 77.8,424.9 78.9,424.8 80.1,424.7 81.2,424.6 82.4,424.5 83.5,424.3 84.7,424.2 85.8,424 87,423.8 88.1,423.6 89.3,423.4 90.4,423.1 91.6,422.8 92.7,422.5 93.9,422.2 95,421.8 96.2,421.4 97.3,421 98.5,420.5 99.6,420.1 100.8,419.5 101.9,419 103.1,418.4 104.2,417.8 105.4,417.2 106.5,416.5 107.7,415.8 108.8,415.1 110,414.3 111.1,413.6 112.3,412.8 113.4,412 114.6,411.2 115.8,410.4 116.9,409.6 118.1,408.8 119.2,408 120.4,407.2 121.5,406.4 122.7,405.7 123.8,405 125,404.3 126.1,403.7 127.3,403.1 128.4,402.6 129.6,402.1 130.7,401.7 131.9,401.3 133,401 134.2,400.8 135.3,400.6 136.5,400.5 137.6,400.5 138.8,400.5 139.9,400.6 141.1,400.7 142.2,400.8 143.4,401 144.5,401.2 145.7,401.5 146.8,401.8 148,402.1 149.1,402.4 150.3,402.8 151.4,403.1 152.6,403.5 153.7,403.9 154.9,404.4 156,404.8 157.2,405.2 158.4,405.7 159.5,406.1 160.7,406.5 161.8,407 163,407.4 164.1,407.8 165.3,408.2 166.4,408.6 167.6,409 168.7,409.4 169.9,409.8 171,410.1 172.2,410.5 173.3,410.9 174.5,411.2 175.6,411.5 176.8,411.9 177.9,412.2 179.1,412.6 180.2,413 181.4,413.3 182.5,413.7 183.7,414.1 184.8,414.5 186,414.9 187.1,415.3 188.3,415.8 189.4,416.2 190.6,416.7 191.7,417.2 192.9,417.7 194,418.2 195.2,418.7 196.3,419.2 197.5,419.7 198.6,420.2 199.8,420.6 201,421.1 202.1,421.5 203.3,421.9 204.4,422.2 205.6,422.6 206.7,422.9 207.9,423.2 209,423.5 210.2,423.7 211.3,423.9 212.5,424.1 213.6,424.3 214.8,424.4 215.9,424.6 217.1,424.7 218.2,424.8 219.4,424.9 220.5,425 221.7,425 222.8,425.1 224,425.1 225.1,425.2 226.3,425.2 227.4,425.2 228.6,425.3 228.6,425.4Z" fill="#ff7f00" fill-opacity="0.3"/>
<path d="M111.9,425.4 L111.9,425 112.3,424.9 112.8,424.8 113.2,424.7 113.7,424.6 114.2,424.4 114.6,424.3 115.1,424.1 115.5,423.9 116,423.7 116.4,423.4 116.9,423.2 117.4,422.8 117.8,422.5 118.3,422.1 118.7,421.6 119.2,421.1 119.6,420.6 120.1,420 120.6,419.4 121,418.6 121.5,417.9 121.9,417 122.4,416.1 122.8,415.1 123.3,414 123.8,412.9 124.2,411.6 124.7,410.3 125.1,408.9 125.6,407.4 126,405.8 126.5,404.1 127,402.4 127.4,400.6 127.9,398.6 128.3,396.7 128.8,394.6 129.2,392.5 129.7,390.3 130.2,388.1 130.6,385.8 131.1,383.6 131.5,381.2 132,378.9 132.4,376.6 132.9,374.3 133.4,372 133.8,369.8 134.3,367.6 134.7,365.5 135.2,363.5 135.6,361.5 136.1,359.7 136.6,357.9 137,356.4 137.5,354.9 137.9,353.6 138.4,352.5 138.8,351.5 139.3,350.7 139.8,350.1 140.2,349.7 140.7,349.5 141.1,349.4 141.6,349.5 142,349.8 142.5,350.2 143,350.7 143.4,351.3 143.9,352.1 144.3,353 144.8,354 145.2,355.1 145.7,356.4 146.2,357.7 146.6,359.2 147.1,360.7 147.5,362.3 148,364 148.4,365.7 148.9,367.5 149.4,369.3 149.8,371.2 150.3,373.1 150.7,375.1 151.2,377 151.6,379 152.1,380.9 152.6,382.9 153,384.8 153.5,386.8 153.9,388.7 154.4,390.5 154.8,392.4 155.3,394.2 155.8,395.9 156.2,397.6 156.7,399.3 157.1,400.9 157.6,402.4 158,403.9 158.5,405.3 159,406.7 159.4,408 159.9,409.2 160.3,410.4 160.8,411.5 161.2,412.6 161.7,413.6 162.2,414.5 162.6,415.4 163.1,416.3 163.5,417 164,417.8 164.4,418.4 164.9,419.1 165.4,419.6 165.8,420.2 166.3,420.7 166.7,421.1 167.2,421.5 167.6,421.9 168.1,422.3 168.6,422.6 169,422.9 169.5,423.2 169.9,423.4 170.4,423.6 170.8,423.8 171.3,424 171.8,424.2 172.2,424.3 172.7,424.4 173.1,424.5 173.6,424.6 174,424.7 174.5,424.8 175,424.9 175.4,425 175.4,425.4Z" fill="#984ea3" fill-opacity="0.3"/>
<path d="M112.9,425.4 L112.9,425.1 113.6,425 114.3,425 115,424.9 115.7,424.8 116.4,424.7 117.1,424.6 117.8,424.4 118.5,424.3 119.2,424.1 119.9,423.9 120.6,423.6 121.3,423.3 122,423 122.7,422.7 123.4,422.3 124.1,421.9 124.8,421.4 125.5,420.9 126.2,420.3 126.9,419.6 127.6,418.9 128.3,418.2 129,417.4 129.7,416.5 130.4,415.5 131.1,414.5 131.8,413.4 132.4,412.3 133.1,411.1 133.8,409.8 134.5,408.4 135.2,407 135.9,405.6 136.6,404.1 137.3,402.5 138,401 138.7,399.3 139.4,397.7 140.1,396.1 140.8,394.4 141.5,392.8 142.2,391.1 142.9,389.5 143.6,388 144.3,386.4 145,385 145.7,383.6 146.4,382.3 147.1,381 147.8,379.9 148.5,378.8 149.2,377.9 149.9,377.1 150.6,376.4 151.3,375.8 152,375.3 152.7,375 153.4,374.8 154.1,374.7 154.8,374.7 155.5,374.9 156.2,375.2 156.9,375.5 157.6,376 158.3,376.6 159,377.2 159.7,378 160.4,378.8 161.1,379.6 161.8,380.6 162.5,381.6 163.2,382.6 163.9,383.6 164.6,384.7 165.3,385.8 166,387 166.7,388.1 167.4,389.2 168.1,390.4 168.8,391.5 169.5,392.7 170.2,393.8 170.9,394.9 171.6,396 172.3,397.1 173,398.2 173.7,399.3 174.4,400.3 175.1,401.3 175.8,402.3 176.5,403.3 177.2,404.3 177.9,405.2 178.6,406.1 179.3,407 180,407.9 180.7,408.8 181.4,409.6 182.1,410.4 182.8,411.2 183.5,412 184.2,412.7 184.9,413.5 185.6,414.2 186.3,414.9 187,415.5 187.7,416.2 188.4,416.8 189.1,417.4 189.8,417.9 190.5,418.5 191.1,419 191.8,419.5 192.5,420 193.2,420.4 193.9,420.8 194.6,421.2 195.3,421.6 196,421.9 196.7,422.2 197.4,422.5 198.1,422.8 198.8,423.1 199.5,423.3 200.2,423.5 200.9,423.7 201.6,423.9 202.3,424.1 203,424.2 203.7,424.4 204.4,424.5 205.1,424.6 205.8,424.7 206.5,424.8 207.2,424.9 207.9,424.9 208.6,425 209.3,425.1 210,425.1 210,425.4Z" fill="#4daf4a" fill-opacity="0.3"/>
<path d="M144.8,425.4 L144.8,424.9 145.2,424.8 145.5,424.6 145.8,424.5 146.2,424.3 146.5,424.1 146.8,423.9 147.2,423.6 147.5,423.3 147.8,423 148.2,422.6 148.5,422.2 148.8,421.7 149.2,421.1 149.5,420.4 149.8,419.7 150.2,418.9 150.5,418 150.8,417 151.2,415.9 151.5,414.7 151.8,413.4 152.2,412 152.5,410.5 152.8,408.8 153.2,407 153.5,405.1 153.8,403 154.2,400.9 154.5,398.6 154.8,396.1 155.1,393.6 155.5,391 155.8,388.3 156.1,385.4 156.5,382.6 156.8,379.6 157.1,376.6 157.5,373.6 157.8,370.6 158.1,367.6 158.5,364.6 158.8,361.6 159.1,358.7 159.5,355.9 159.8,353.2 160.1,350.7 160.5,348.2 160.8,346 161.1,343.9 161.5,342 161.8,340.2 162.1,338.7 162.5,337.4 162.8,336.3 163.1,335.4 163.5,334.7 163.8,334.2 164.1,334 164.5,333.8 164.8,333.9 165.1,334.1 165.5,334.5 165.8,335 166.1,335.5 166.5,336.2 166.8,336.9 167.1,337.7 167.5,338.5 167.8,339.3 168.1,340.1 168.5,340.9 168.8,341.7 169.1,342.4 169.5,343.1 169.8,343.8 170.1,344.4 170.4,345 170.8,345.5 171.1,346 171.4,346.5 171.8,346.9 172.1,347.4 172.4,347.8 172.8,348.3 173.1,348.9 173.4,349.5 173.8,350.2 174.1,350.9 174.4,351.8 174.8,352.7 175.1,353.8 175.4,355 175.8,356.4 176.1,357.9 176.4,359.5 176.8,361.4 177.1,363.3 177.4,365.4 177.8,367.6 178.1,369.9 178.4,372.3 178.8,374.8 179.1,377.4 179.4,380 179.8,382.6 180.1,385.2 180.4,387.8 180.8,390.4 181.1,392.9 181.4,395.3 181.8,397.7 182.1,400 182.4,402.2 182.8,404.3 183.1,406.3 183.4,408.2 183.8,409.9 184.1,411.6 184.4,413.1 184.8,414.4 185.1,415.7 185.4,416.9 185.7,417.9 186.1,418.9 186.4,419.7 186.7,420.5 187.1,421.2 187.4,421.8 187.7,422.3 188.1,422.8 188.4,423.2 188.7,423.5 189.1,423.8 189.4,424.1 189.7,424.3 190.1,424.5 190.4,424.6 190.7,424.8 191.1,424.9 191.1,425.4Z" fill="#377eb8" fill-opacity="0.3"/>
<path d="M113.5,425.4 L113.5,425.1 114,425 114.6,425 115.1,424.9 115.6,424.8 116.1,424.7 116.7,424.6 117.2,424.4 117.7,424.2 118.2,424.1 118.8,423.8 119.3,423.6 119.8,423.3 120.4,423 120.9,422.7 121.4,422.3 121.9,421.9 122.5,421.4 123,420.9 123.5,420.4 124,419.8 124.6,419.1 125.1,418.4 125.6,417.6 126.1,416.8 126.7,415.9 127.2,414.9 127.7,413.9 128.2,412.8 128.8,411.7 129.3,410.5 129.8,409.3 130.4,408 130.9,406.7 131.4,405.3 131.9,403.9 132.5,402.5 133,401.1 133.5,399.6 134,398.1 134.6,396.6 135.1,395.2 135.6,393.7 136.1,392.3 136.7,390.8 137.2,389.4 137.7,388.1 138.2,386.8 138.8,385.5 139.3,384.4 139.8,383.2 140.3,382.2 140.9,381.2 141.4,380.2 141.9,379.4 142.5,378.6 143,377.9 143.5,377.2 144,376.6 144.6,376 145.1,375.6 145.6,375.1 146.1,374.8 146.7,374.5 147.2,374.3 147.7,374.1 148.2,374 148.8,373.9 149.3,374 149.8,374.1 150.3,374.2 150.9,374.4 151.4,374.7 151.9,375 152.4,375.4 153,375.9 153.5,376.5 154,377 154.6,377.7 155.1,378.4 155.6,379.2 156.1,380 156.7,380.9 157.2,381.9 157.7,382.9 158.2,384 158.8,385.1 159.3,386.2 159.8,387.4 160.3,388.6 160.9,389.9 161.4,391.2 161.9,392.5 162.4,393.8 163,395.1 163.5,396.5 164,397.8 164.6,399.2 165.1,400.5 165.6,401.8 166.1,403.2 166.7,404.4 167.2,405.7 167.7,406.9 168.2,408.1 168.8,409.3 169.3,410.4 169.8,411.5 170.3,412.5 170.9,413.5 171.4,414.4 171.9,415.3 172.4,416.2 173,417 173.5,417.7 174,418.4 174.5,419.1 175.1,419.7 175.6,420.3 176.1,420.8 176.7,421.3 177.2,421.7 177.7,422.1 178.2,422.5 178.8,422.8 179.3,423.1 179.8,423.4 180.3,423.6 180.9,423.8 181.4,424 181.9,424.2 182.4,424.4 183,424.5 183.5,424.6 184,424.7 184.5,424.8 185.1,424.9 185.6,425 186.1,425 186.6,425.1 186.6,425.4Z" fill="#e41a1c" fill-opacity="0.3"/>
</g>
<text x="17.60" y="429.30" font-size="3.85" text-anchor="middle" fill="#111" stroke="#111" stroke-width="0.14">0.940</text>
<text x="58.87" y="429.30" font-size="3.85" text-anchor="middle" fill="#111" stroke="#111" stroke-width="0.14">0.945</text>
<text x="100.13" y="429.30" font-size="3.85" text-anchor="middle" fill="#111" stroke="#111" stroke-width="0.14">0.950</text>
<text x="141.40" y="429.30" font-size="3.85" text-anchor="middle" fill="#111" stroke="#111" stroke-width="0.14">0.955</text>
<text x="182.67" y="429.30" font-size="3.85" text-anchor="middle" fill="#111" stroke="#111" stroke-width="0.14">0.960</text>
<text x="223.93" y="429.30" font-size="3.85" text-anchor="middle" fill="#111" stroke="#111" stroke-width="0.14">0.965</text>
<text x="265.20" y="429.30" font-size="3.85" text-anchor="middle" fill="#111" stroke="#111" stroke-width="0.14">0.970</text>
<text x="14.80" y="427.00" font-size="3.85" text-anchor="end" fill="#111" stroke="#111" stroke-width="0.14">0</text>
<text x="14.80" y="406.95" font-size="3.85" text-anchor="end" fill="#111" stroke="#111" stroke-width="0.14">10</text>
<text x="14.80" y="386.90" font-size="3.85" text-anchor="end" fill="#111" stroke="#111" stroke-width="0.14">20</text>
<text x="14.80" y="366.85" font-size="3.85" text-anchor="end" fill="#111" stroke="#111" stroke-width="0.14">30</text>
<text x="14.80" y="346.80" font-size="3.85" text-anchor="end" fill="#111" stroke="#111" stroke-width="0.14">40</text>
<text x="142.00" y="329.10" font-size="3.79" text-anchor="middle" fill="#000" stroke="#000" stroke-width="0.15" xml:space="preserve" style="white-space:pre">Software defects prediction TF-IDF AdaBoost -  objective KDE plot diagram</text>
<text x="142.25" y="434.80" font-size="3.65" text-anchor="middle" fill="#000" stroke="#000" stroke-width="0.1">Objective</text>
<text x="7.50" y="378.50" font-size="3.65" text-anchor="middle" fill="#000" stroke="#000" stroke-width="0.1" transform="rotate(-90 7.50 378.50)">Density</text>
<rect x="225.0" y="331.8" width="41.3" height="46.4" rx="0.6" fill="#f0f0f0" fill-opacity="0.8" stroke="#dcdcdc" stroke-width="0.3"/>
<rect x="227.2" y="334.45" width="8.1" height="2.9" fill="#e41a1c" fill-opacity="0.33"/>
<text x="238.30" y="337.25" font-size="3.71" text-anchor="start" fill="#000" stroke="#000" stroke-width="0.2">AB-MPPSO</text>
<rect x="227.2" y="339.98" width="8.1" height="2.9" fill="#377eb8" fill-opacity="0.33"/>
<text x="238.30" y="342.78" font-size="3.71" text-anchor="start" fill="#000" stroke="#000" stroke-width="0.2">AB-PSO</text>
<rect x="227.2" y="345.51" width="8.1" height="2.9" fill="#4daf4a" fill-opacity="0.33"/>
<text x="238.30" y="348.31" font-size="3.71" text-anchor="start" fill="#000" stroke="#000" stroke-width="0.2">AB-GA</text>
<rect x="227.2" y="351.04" width="8.1" height="2.9" fill="#984ea3" fill-opacity="0.33"/>
<text x="238.30" y="353.84" font-size="3.71" text-anchor="start" fill="#000" stroke="#000" stroke-width="0.2">AB-VNS</text>
<rect x="227.2" y="356.57" width="8.1" height="2.9" fill="#ff7f00" fill-opacity="0.33"/>
<text x="238.30" y="359.37" font-size="3.71" text-anchor="start" fill="#000" stroke="#000" stroke-width="0.2">AB-ABC</text>
<rect x="227.2" y="362.10" width="8.1" height="2.9" fill="#ffff33" fill-opacity="0.33"/>
<text x="238.30" y="364.90" font-size="3.71" text-anchor="start" fill="#000" stroke="#000" stroke-width="0.2">AB-BA</text>
<rect x="227.2" y="367.63" width="8.1" height="2.9" fill="#a65628" fill-opacity="0.33"/>
<text x="238.30" y="370.43" font-size="3.71" text-anchor="start" fill="#000" stroke="#000" stroke-width="0.2">AB-SCHO</text>
<rect x="227.2" y="373.16" width="8.1" height="2.9" fill="#f781bf" fill-opacity="0.33"/>
<text x="238.30" y="375.96" font-size="3.71" text-anchor="start" fill="#000" stroke="#000" stroke-width="0.2">AB-COLSHADE</text>
<rect x="276.1" y="323.6" width="270.4" height="113.0" fill="#f0f0f0"/>
<line x1="324.60" y1="331.6" x2="324.60" y2="427.7" stroke="#cbcbcb" stroke-width="0.45"/>
<line x1="364.24" y1="331.6" x2="364.24" y2="427.7" stroke="#cbcbcb" stroke-width="0.45"/>
<line x1="403.88" y1="331.6" x2="403.88" y2="427.7" stroke="#cbcbcb" stroke-width="0.45"/>
<line x1="443.52" y1="331.6" x2="443.52" y2="427.7" stroke="#cbcbcb" stroke-width="0.45"/>
<line x1="483.16" y1="331.6" x2="483.16" y2="427.7" stroke="#cbcbcb" stroke-width="0.45"/>
<line x1="522.80" y1="331.6" x2="522.80" y2="427.7" stroke="#cbcbcb" stroke-width="0.45"/>
<line x1="289.8" y1="425.40" x2="543.6" y2="425.40" stroke="#cbcbcb" stroke-width="0.45" stroke-opacity="0.45"/>
<line x1="289.8" y1="412.33" x2="543.6" y2="412.33" stroke="#cbcbcb" stroke-width="0.45"/>
<line x1="289.8" y1="399.26" x2="543.6" y2="399.26" stroke="#cbcbcb" stroke-width="0.45"/>
<line x1="289.8" y1="386.19" x2="543.6" y2="386.19" stroke="#cbcbcb" stroke-width="0.45"/>
<line x1="289.8" y1="373.11" x2="543.6" y2="373.11" stroke="#cbcbcb" stroke-width="0.45"/>
<line x1="289.8" y1="360.04" x2="543.6" y2="360.04" stroke="#cbcbcb" stroke-width="0.45"/>
<line x1="289.8" y1="346.97" x2="543.6" y2="346.97" stroke="#cbcbcb" stroke-width="0.45"/>
<line x1="289.8" y1="333.90" x2="543.6" y2="333.90" stroke="#cbcbcb" stroke-width="0.45"/>
<clipPath id="c5"><rect x="289.8" y="331.6" width="253.8" height="93.79999999999995"/></clipPath>
<g clip-path="url(#c5)">
<path d="M400.9,425.4 L400.9,425 401.6,424.9 402.3,424.9 403,424.8 403.8,424.7 404.5,424.6 405.2,424.5 405.9,424.3 406.6,424.2 407.3,424 408.1,423.9 408.8,423.6 409.5,423.4 410.2,423.2 410.9,422.9 411.6,422.6 412.4,422.2 413.1,421.8 413.8,421.4 414.5,421 415.2,420.5 415.9,419.9 416.6,419.3 417.4,418.7 418.1,418 418.8,417.3 419.5,416.5 420.2,415.6 420.9,414.7 421.7,413.8 422.4,412.7 423.1,411.6 423.8,410.5 424.5,409.3 425.2,408 426,406.6 426.7,405.2 427.4,403.8 428.1,402.2 428.8,400.7 429.5,399 430.3,397.4 431,395.6 431.7,393.9 432.4,392.1 433.1,390.3 433.8,388.4 434.6,386.6 435.3,384.7 436,382.9 436.7,381 437.4,379.2 438.1,377.4 438.8,375.7 439.6,373.9 440.3,372.3 441,370.7 441.7,369.1 442.4,367.7 443.1,366.3 443.9,365.1 444.6,363.9 445.3,362.8 446,361.9 446.7,361.1 447.4,360.4 448.2,359.9 448.9,359.4 449.6,359.2 450.3,359 451,359 451.7,359.2 452.5,359.4 453.2,359.9 453.9,360.4 454.6,361.1 455.3,361.9 456,362.9 456.7,363.9 457.5,365.1 458.2,366.3 458.9,367.7 459.6,369.2 460.3,370.7 461,372.3 461.8,374 462.5,375.7 463.2,377.5 463.9,379.3 464.6,381.1 465.3,382.9 466.1,384.8 466.8,386.6 467.5,388.5 468.2,390.3 468.9,392.1 469.6,393.9 470.4,395.7 471.1,397.4 471.8,399.1 472.5,400.7 473.2,402.3 473.9,403.8 474.7,405.2 475.4,406.7 476.1,408 476.8,409.3 477.5,410.5 478.2,411.7 478.9,412.7 479.7,413.8 480.4,414.7 481.1,415.7 481.8,416.5 482.5,417.3 483.2,418 484,418.7 484.7,419.4 485.4,419.9 486.1,420.5 486.8,421 487.5,421.4 488.3,421.8 489,422.2 489.7,422.6 490.4,422.9 491.1,423.2 491.8,423.4 492.6,423.6 493.3,423.9 494,424 494.7,424.2 495.4,424.4 496.1,424.5 496.9,424.6 497.6,424.7 498.3,424.8 499,424.9 499.7,424.9 500.4,425 500.4,425.4Z" fill="#f781bf" fill-opacity="0.3"/>
<path d="M414.4,425.4 L414.4,425 415.1,425 415.8,424.9 416.5,424.9 417.2,424.8 417.9,424.7 418.6,424.6 419.3,424.5 420,424.4 420.7,424.3 421.4,424.2 422.1,424 422.9,423.9 423.6,423.7 424.3,423.5 425,423.3 425.7,423.1 426.4,422.8 427.1,422.5 427.8,422.2 428.5,421.9 429.2,421.5 429.9,421.1 430.7,420.7 431.4,420.3 432.1,419.8 432.8,419.3 433.5,418.7 434.2,418.1 434.9,417.5 435.6,416.8 436.3,416.1 437,415.3 437.7,414.5 438.5,413.7 439.2,412.8 439.9,411.9 440.6,410.9 441.3,409.9 442,408.8 442.7,407.7 443.4,406.5 444.1,405.3 444.8,404.1 445.5,402.8 446.2,401.5 447,400.2 447.7,398.8 448.4,397.4 449.1,396 449.8,394.5 450.5,393.1 451.2,391.6 451.9,390.1 452.6,388.6 453.3,387.1 454,385.6 454.8,384.2 455.5,382.7 456.2,381.3 456.9,379.9 457.6,378.5 458.3,377.2 459,375.9 459.7,374.7 460.4,373.5 461.1,372.4 461.8,371.4 462.5,370.4 463.3,369.5 464,368.7 464.7,368 465.4,367.4 466.1,366.8 466.8,366.4 467.5,366 468.2,365.7 468.9,365.6 469.6,365.5 470.3,365.6 471.1,365.8 471.8,366.2 472.5,366.8 473.2,367.5 473.9,368.4 474.6,369.4 475.3,370.5 476,371.8 476.7,373.2 477.4,374.7 478.1,376.2 478.9,377.9 479.6,379.6 480.3,381.4 481,383.3 481.7,385.1 482.4,387 483.1,388.9 483.8,390.8 484.5,392.7 485.2,394.6 485.9,396.5 486.6,398.3 487.4,400.1 488.1,401.8 488.8,403.5 489.5,405.1 490.2,406.6 490.9,408.1 491.6,409.5 492.3,410.8 493,412 493.7,413.2 494.4,414.3 495.2,415.4 495.9,416.3 496.6,417.2 497.3,418 498,418.8 498.7,419.5 499.4,420.1 500.1,420.7 500.8,421.3 501.5,421.7 502.2,422.2 503,422.6 503.7,422.9 504.4,423.2 505.1,423.5 505.8,423.7 506.5,424 507.2,424.2 507.9,424.3 508.6,424.5 509.3,424.6 510,424.7 510.7,424.8 511.5,424.9 512.2,425 512.9,425 512.9,425.4Z" fill="#a65628" fill-opacity="0.3"/>
<path d="M340.3,425.4 L340.3,425.2 341.6,425.1 343,425.1 344.3,425.1 345.6,425 346.9,425 348.2,424.9 349.5,424.8 350.8,424.7 352.2,424.6 353.5,424.5 354.8,424.4 356.1,424.3 357.4,424.2 358.7,424 360,423.8 361.4,423.6 362.7,423.4 364,423.2 365.3,422.9 366.6,422.7 367.9,422.4 369.2,422 370.6,421.7 371.9,421.3 373.2,420.9 374.5,420.5 375.8,420 377.1,419.5 378.4,418.9 379.8,418.4 381.1,417.8 382.4,417.1 383.7,416.5 385,415.8 386.3,415 387.6,414.2 389,413.4 390.3,412.6 391.6,411.7 392.9,410.8 394.2,409.9 395.5,408.9 396.9,408 398.2,407 399.5,406 400.8,405 402.1,404 403.4,402.9 404.7,401.9 406.1,400.9 407.4,399.9 408.7,398.9 410,397.9 411.3,397 412.6,396.1 413.9,395.2 415.3,394.4 416.6,393.6 417.9,392.8 419.2,392.1 420.5,391.5 421.8,390.9 423.1,390.4 424.5,389.9 425.8,389.6 427.1,389.3 428.4,389 429.7,388.9 431,388.8 432.3,388.8 433.7,388.9 435,389 436.3,389.3 437.6,389.6 438.9,390 440.2,390.4 441.5,390.9 442.9,391.5 444.2,392.2 445.5,392.9 446.8,393.6 448.1,394.4 449.4,395.3 450.7,396.2 452.1,397.1 453.4,398 454.7,399 456,400 457.3,401 458.6,402 459.9,403 461.3,404 462.6,405.1 463.9,406.1 465.2,407.1 466.5,408.1 467.8,409 469.1,410 470.5,410.9 471.8,411.8 473.1,412.7 474.4,413.5 475.7,414.3 477,415.1 478.3,415.8 479.7,416.5 481,417.2 482.3,417.8 483.6,418.4 484.9,419 486.2,419.5 487.5,420 488.9,420.5 490.2,420.9 491.5,421.3 492.8,421.7 494.1,422.1 495.4,422.4 496.7,422.7 498.1,423 499.4,423.2 500.7,423.4 502,423.6 503.3,423.8 504.6,424 505.9,424.2 507.3,424.3 508.6,424.4 509.9,424.5 511.2,424.6 512.5,424.7 513.8,424.8 515.1,424.9 516.5,425 517.8,425 519.1,425.1 520.4,425.1 521.7,425.1 523,425.2 523,425.4Z" fill="#ffff33" fill-opacity="0.3"/>
<path d="M310.7,425.4 L310.7,425.2 312.2,425.2 313.6,425.1 315,425.1 316.4,425.1 317.8,425 319.2,425 320.6,424.9 322,424.8 323.4,424.8 324.9,424.7 326.3,424.6 327.7,424.5 329.1,424.4 330.5,424.2 331.9,424.1 333.3,424 334.7,423.8 336.1,423.6 337.5,423.5 339,423.3 340.4,423.1 341.8,422.9 343.2,422.6 344.6,422.4 346,422.2 347.4,421.9 348.8,421.6 350.2,421.3 351.6,421.1 353.1,420.8 354.5,420.5 355.9,420.1 357.3,419.8 358.7,419.5 360.1,419.2 361.5,418.8 362.9,418.5 364.3,418.1 365.8,417.8 367.2,417.4 368.6,417 370,416.7 371.4,416.3 372.8,415.9 374.2,415.4 375.6,415 377,414.6 378.4,414.1 379.9,413.6 381.3,413.1 382.7,412.6 384.1,412.1 385.5,411.5 386.9,410.9 388.3,410.2 389.7,409.6 391.1,408.9 392.5,408.2 394,407.4 395.4,406.6 396.8,405.8 398.2,405 399.6,404.1 401,403.3 402.4,402.4 403.8,401.6 405.2,400.7 406.6,399.9 408.1,399.1 409.5,398.3 410.9,397.6 412.3,396.9 413.7,396.2 415.1,395.7 416.5,395.2 417.9,394.7 419.3,394.4 420.8,394.1 422.2,394 423.6,393.9 425,393.9 426.4,394.1 427.8,394.3 429.2,394.6 430.6,395 432,395.4 433.4,396 434.9,396.6 436.3,397.3 437.7,398 439.1,398.8 440.5,399.6 441.9,400.5 443.3,401.4 444.7,402.4 446.1,403.4 447.5,404.4 449,405.4 450.4,406.5 451.8,407.5 453.2,408.5 454.6,409.5 456,410.5 457.4,411.5 458.8,412.5 460.2,413.4 461.7,414.3 463.1,415.1 464.5,415.9 465.9,416.7 467.3,417.5 468.7,418.2 470.1,418.8 471.5,419.4 472.9,420 474.3,420.5 475.8,421 477.2,421.5 478.6,421.9 480,422.3 481.4,422.7 482.8,423 484.2,423.3 485.6,423.5 487,423.7 488.4,424 489.9,424.1 491.3,424.3 492.7,424.5 494.1,424.6 495.5,424.7 496.9,424.8 498.3,424.9 499.7,425 501.1,425 502.5,425.1 504,425.1 505.4,425.2 506.8,425.2 506.8,425.4Z" fill="#ff7f00" fill-opacity="0.3"/>
<path d="M423.7,425.4 L423.7,424.9 424.4,424.9 425.1,424.8 425.7,424.7 426.4,424.6 427.1,424.4 427.7,424.3 428.4,424.1 429.1,424 429.7,423.7 430.4,423.5 431,423.3 431.7,423 432.4,422.6 433,422.3 433.7,421.9 434.4,421.4 435,420.9 435.7,420.4 436.3,419.8 437,419.2 437.7,418.5 438.3,417.7 439,416.9 439.7,416 440.3,415 441,414 441.7,412.9 442.3,411.7 443,410.4 443.6,409.1 444.3,407.7 445,406.2 445.6,404.6 446.3,402.9 447,401.2 447.6,399.4 448.3,397.5 448.9,395.6 449.6,393.6 450.3,391.6 450.9,389.5 451.6,387.3 452.3,385.2 452.9,383 453.6,380.8 454.3,378.6 454.9,376.4 455.6,374.2 456.2,372 456.9,369.9 457.6,367.9 458.2,365.8 458.9,363.9 459.6,362.1 460.2,360.3 460.9,358.7 461.5,357.1 462.2,355.7 462.9,354.5 463.5,353.4 464.2,352.4 464.9,351.6 465.5,351 466.2,350.5 466.9,350.2 467.5,350.1 468.2,350.2 468.8,350.4 469.5,350.7 470.2,351.2 470.8,351.8 471.5,352.6 472.2,353.4 472.8,354.5 473.5,355.6 474.1,356.8 474.8,358.2 475.5,359.7 476.1,361.2 476.8,362.9 477.5,364.6 478.1,366.4 478.8,368.2 479.4,370.1 480.1,372 480.8,374 481.4,376 482.1,378 482.8,380 483.4,382 484.1,384 484.8,386 485.4,387.9 486.1,389.9 486.7,391.8 487.4,393.6 488.1,395.4 488.7,397.2 489.4,398.9 490.1,400.6 490.7,402.2 491.4,403.7 492,405.2 492.7,406.6 493.4,407.9 494,409.2 494.7,410.4 495.4,411.6 496,412.7 496.7,413.7 497.4,414.7 498,415.6 498.7,416.4 499.3,417.2 500,417.9 500.7,418.6 501.3,419.2 502,419.8 502.7,420.4 503.3,420.9 504,421.3 504.6,421.7 505.3,422.1 506,422.5 506.6,422.8 507.3,423.1 508,423.3 508.6,423.5 509.3,423.8 510,423.9 510.6,424.1 511.3,424.3 511.9,424.4 512.6,424.5 513.3,424.6 513.9,424.7 514.6,424.8 515.3,424.9 515.9,425 515.9,425.4Z" fill="#984ea3" fill-opacity="0.3"/>
<path d="M399.9,425.4 L399.9,425.1 400.7,425 401.5,425 402.3,424.9 403.1,424.9 403.9,424.8 404.7,424.7 405.5,424.7 406.3,424.6 407.1,424.5 407.9,424.4 408.7,424.2 409.5,424.1 410.3,423.9 411.1,423.8 411.9,423.6 412.7,423.4 413.5,423.2 414.3,422.9 415.1,422.7 416,422.4 416.8,422.1 417.6,421.8 418.4,421.4 419.2,421 420,420.6 420.8,420.2 421.6,419.7 422.4,419.2 423.2,418.7 424,418.1 424.8,417.5 425.6,416.9 426.4,416.2 427.2,415.5 428,414.7 428.8,413.9 429.6,413.1 430.4,412.2 431.2,411.3 432,410.4 432.8,409.4 433.6,408.4 434.4,407.3 435.2,406.3 436,405.1 436.9,404 437.7,402.8 438.5,401.6 439.3,400.4 440.1,399.2 440.9,397.9 441.7,396.6 442.5,395.4 443.3,394.1 444.1,392.8 444.9,391.5 445.7,390.2 446.5,389 447.3,387.7 448.1,386.5 448.9,385.3 449.7,384.1 450.5,383 451.3,381.9 452.1,380.9 452.9,379.9 453.7,378.9 454.5,378 455.3,377.2 456.1,376.5 456.9,375.8 457.8,375.2 458.6,374.6 459.4,374.2 460.2,373.8 461,373.5 461.8,373.3 462.6,373.2 463.4,373.1 464.2,373.2 465,373.4 465.8,373.8 466.6,374.3 467.4,375 468.2,375.8 469,376.7 469.8,377.7 470.6,378.9 471.4,380.1 472.2,381.5 473,382.9 473.8,384.4 474.6,385.9 475.4,387.5 476.2,389.2 477,390.8 477.8,392.5 478.6,394.2 479.5,395.9 480.3,397.6 481.1,399.2 481.9,400.9 482.7,402.4 483.5,404 484.3,405.5 485.1,406.9 485.9,408.3 486.7,409.7 487.5,410.9 488.3,412.1 489.1,413.3 489.9,414.4 490.7,415.4 491.5,416.3 492.3,417.2 493.1,418 493.9,418.7 494.7,419.4 495.5,420.1 496.3,420.7 497.1,421.2 497.9,421.7 498.7,422.1 499.5,422.5 500.4,422.8 501.2,423.2 502,423.4 502.8,423.7 503.6,423.9 504.4,424.1 505.2,424.3 506,424.4 506.8,424.6 507.6,424.7 508.4,424.8 509.2,424.9 510,425 510.8,425 511.6,425.1 511.6,425.4Z" fill="#4daf4a" fill-opacity="0.3"/>
<path d="M448.8,425.4 L448.8,424.9 449.2,424.8 449.7,424.7 450.2,424.6 450.7,424.5 451.2,424.4 451.6,424.2 452.1,424.1 452.6,423.9 453.1,423.7 453.6,423.5 454,423.3 454.5,423 455,422.8 455.5,422.4 456,422.1 456.4,421.7 456.9,421.3 457.4,420.9 457.9,420.4 458.3,419.8 458.8,419.2 459.3,418.6 459.8,417.9 460.3,417.2 460.7,416.4 461.2,415.6 461.7,414.7 462.2,413.7 462.7,412.7 463.1,411.6 463.6,410.4 464.1,409.1 464.6,407.8 465.1,406.4 465.5,405 466,403.5 466.5,401.9 467,400.2 467.5,398.4 467.9,396.6 468.4,394.7 468.9,392.8 469.4,390.8 469.9,388.7 470.3,386.6 470.8,384.5 471.3,382.2 471.8,380 472.3,377.7 472.7,375.4 473.2,373.1 473.7,370.8 474.2,368.4 474.7,366.1 475.1,363.8 475.6,361.5 476.1,359.2 476.6,357 477.1,354.9 477.5,352.8 478,350.8 478.5,348.8 479,347 479.4,345.2 479.9,343.6 480.4,342 480.9,340.6 481.4,339.3 481.8,338.2 482.3,337.2 482.8,336.3 483.3,335.6 483.8,335.1 484.2,334.7 484.7,334.5 485.2,334.4 485.7,334.6 486.2,335 486.6,335.6 487.1,336.4 487.6,337.5 488.1,338.7 488.6,340.2 489,341.9 489.5,343.7 490,345.7 490.5,347.9 491,350.2 491.4,352.6 491.9,355.1 492.4,357.7 492.9,360.4 493.4,363.1 493.8,365.9 494.3,368.7 494.8,371.5 495.3,374.3 495.8,377.1 496.2,379.8 496.7,382.5 497.2,385.2 497.7,387.7 498.2,390.2 498.6,392.7 499.1,395 499.6,397.2 500.1,399.4 500.5,401.4 501,403.4 501.5,405.2 502,406.9 502.5,408.5 502.9,410.1 503.4,411.5 503.9,412.8 504.4,414 504.9,415.2 505.3,416.2 505.8,417.2 506.3,418 506.8,418.8 507.3,419.6 507.7,420.2 508.2,420.8 508.7,421.4 509.2,421.9 509.7,422.3 510.1,422.7 510.6,423 511.1,423.3 511.6,423.6 512.1,423.8 512.5,424.1 513,424.2 513.5,424.4 514,424.5 514.5,424.7 514.9,424.8 515.4,424.9 515.4,425.4Z" fill="#377eb8" fill-opacity="0.3"/>
<path d="M410.7,425.4 L410.7,425 411.5,424.9 412.3,424.8 413.1,424.7 414,424.6 414.8,424.5 415.6,424.3 416.4,424.2 417.3,424 418.1,423.7 418.9,423.5 419.7,423.2 420.6,422.8 421.4,422.5 422.2,422 423,421.6 423.9,421 424.7,420.5 425.5,419.8 426.3,419.1 427.1,418.3 428,417.5 428.8,416.6 429.6,415.6 430.4,414.5 431.3,413.3 432.1,412.1 432.9,410.8 433.7,409.3 434.6,407.8 435.4,406.2 436.2,404.5 437,402.8 437.9,400.9 438.7,399 439.5,397 440.3,395 441.2,392.9 442,390.8 442.8,388.6 443.6,386.4 444.4,384.2 445.3,382 446.1,379.8 446.9,377.6 447.7,375.5 448.6,373.4 449.4,371.4 450.2,369.5 451,367.7 451.9,366 452.7,364.4 453.5,363 454.3,361.7 455.2,360.6 456,359.7 456.8,358.9 457.6,358.3 458.5,357.9 459.3,357.7 460.1,357.7 460.9,357.9 461.8,358.3 462.6,358.9 463.4,359.7 464.2,360.7 465,361.8 465.9,363.1 466.7,364.6 467.5,366.2 468.3,368 469.2,369.8 470,371.8 470.8,373.8 471.6,375.9 472.5,378.1 473.3,380.3 474.1,382.5 474.9,384.8 475.8,387 476.6,389.2 477.4,391.4 478.2,393.5 479.1,395.6 479.9,397.6 480.7,399.5 481.5,401.4 482.3,403.2 483.2,404.8 484,406.4 484.8,407.9 485.6,409.2 486.5,410.5 487.3,411.7 488.1,412.7 488.9,413.6 489.8,414.5 490.6,415.2 491.4,415.9 492.2,416.5 493.1,416.9 493.9,417.4 494.7,417.7 495.5,418 496.4,418.2 497.2,418.4 498,418.6 498.8,418.7 499.6,418.9 500.5,419 501.3,419.1 502.1,419.2 502.9,419.4 503.8,419.5 504.6,419.7 505.4,419.8 506.2,420 507.1,420.2 507.9,420.5 508.7,420.7 509.5,421 510.4,421.3 511.2,421.5 512,421.8 512.8,422.1 513.7,422.4 514.5,422.7 515.3,422.9 516.1,423.2 517,423.4 517.8,423.7 518.6,423.9 519.4,424.1 520.2,424.3 521.1,424.4 521.9,424.6 522.7,424.7 523.5,424.8 524.4,424.9 525.2,425 525.2,425.4Z" fill="#e41a1c" fill-opacity="0.3"/>
</g>
<text x="324.60" y="429.30" font-size="3.85" text-anchor="middle" fill="#111" stroke="#111" stroke-width="0.14">0.945</text>
<text x="364.24" y="429.30" font-size="3.85" text-anchor="middle" fill="#111" stroke="#111" stroke-width="0.14">0.950</text>
<text x="403.88" y="429.30" font-size="3.85" text-anchor="middle" fill="#111" stroke="#111" stroke-width="0.14">0.955</text>
<text x="443.52" y="429.30" font-size="3.85" text-anchor="middle" fill="#111" stroke="#111" stroke-width="0.14">0.960</text>
<text x="483.16" y="429.30" font-size="3.85" text-anchor="middle" fill="#111" stroke="#111" stroke-width="0.14">0.965</text>
<text x="522.80" y="429.30" font-size="3.85" text-anchor="middle" fill="#111" stroke="#111" stroke-width="0.14">0.970</text>
<text x="287.60" y="427.00" font-size="3.85" text-anchor="end" fill="#111" stroke="#111" stroke-width="0.14">0</text>
<text x="287.60" y="413.93" font-size="3.85" text-anchor="end" fill="#111" stroke="#111" stroke-width="0.14">5</text>
<text x="287.60" y="400.86" font-size="3.85" text-anchor="end" fill="#111" stroke="#111" stroke-width="0.14">10</text>
<text x="287.60" y="387.79" font-size="3.85" text-anchor="end" fill="#111" stroke="#111" stroke-width="0.14">15</text>
<text x="287.60" y="374.71" font-size="3.85" text-anchor="end" fill="#111" stroke="#111" stroke-width="0.14">20</text>
<text x="287.60" y="361.64" font-size="3.85" text-anchor="end" fill="#111" stroke="#111" stroke-width="0.14">25</text>
<text x="287.60" y="348.57" font-size="3.85" text-anchor="end" fill="#111" stroke="#111" stroke-width="0.14">30</text>
<text x="287.60" y="335.50" font-size="3.85" text-anchor="end" fill="#111" stroke="#111" stroke-width="0.14">35</text>
<text x="416.00" y="328.40" font-size="3.79" text-anchor="middle" fill="#000" stroke="#000" stroke-width="0.15" xml:space="preserve" style="white-space:pre">Software defects prediction TF-IDF XGBoost -  objective KDE plot diagram</text>
<text x="416.70" y="434.80" font-size="3.65" text-anchor="middle" fill="#000" stroke="#000" stroke-width="0.1">Objective</text>
<text x="281.00" y="378.50" font-size="3.65" text-anchor="middle" fill="#000" stroke="#000" stroke-width="0.1" transform="rotate(-90 281.00 378.50)">Density</text>
<rect x="500.2" y="332.0" width="43.0" height="46.0" rx="0.6" fill="#f0f0f0" fill-opacity="0.8" stroke="#dcdcdc" stroke-width="0.3"/>
<rect x="502.1" y="333.75" width="8.0" height="2.9" fill="#e41a1c" fill-opacity="0.33"/>
<text x="513.00" y="336.55" font-size="3.71" text-anchor="start" fill="#000" stroke="#000" stroke-width="0.2">XG-MPPSO</text>
<rect x="502.1" y="339.30" width="8.0" height="2.9" fill="#377eb8" fill-opacity="0.33"/>
<text x="513.00" y="342.10" font-size="3.71" text-anchor="start" fill="#000" stroke="#000" stroke-width="0.2">XG-PSO</text>
<rect x="502.1" y="344.85" width="8.0" height="2.9" fill="#4daf4a" fill-opacity="0.33"/>
<text x="513.00" y="347.65" font-size="3.71" text-anchor="start" fill="#000" stroke="#000" stroke-width="0.2">XG-GA</text>
<rect x="502.1" y="350.40" width="8.0" height="2.9" fill="#984ea3" fill-opacity="0.33"/>
<text x="513.00" y="353.20" font-size="3.71" text-anchor="start" fill="#000" stroke="#000" stroke-width="0.2">XG-VNS</text>
<rect x="502.1" y="355.95" width="8.0" height="2.9" fill="#ff7f00" fill-opacity="0.33"/>
<text x="513.00" y="358.75" font-size="3.71" text-anchor="start" fill="#000" stroke="#000" stroke-width="0.2">XG-ABC</text>
<rect x="502.1" y="361.50" width="8.0" height="2.9" fill="#ffff33" fill-opacity="0.33"/>
<text x="513.00" y="364.30" font-size="3.71" text-anchor="start" fill="#000" stroke="#000" stroke-width="0.2">XG-BA</text>
<rect x="502.1" y="367.05" width="8.0" height="2.9" fill="#a65628" fill-opacity="0.33"/>
<text x="513.00" y="369.85" font-size="3.71" text-anchor="start" fill="#000" stroke="#000" stroke-width="0.2">XG-SCHO</text>
<rect x="502.1" y="372.60" width="8.0" height="2.9" fill="#f781bf" fill-opacity="0.33"/>
<text x="513.00" y="375.40" font-size="3.71" text-anchor="start" fill="#000" stroke="#000" stroke-width="0.2">XG-COLSHADE</text>
</svg>
</body></html>
